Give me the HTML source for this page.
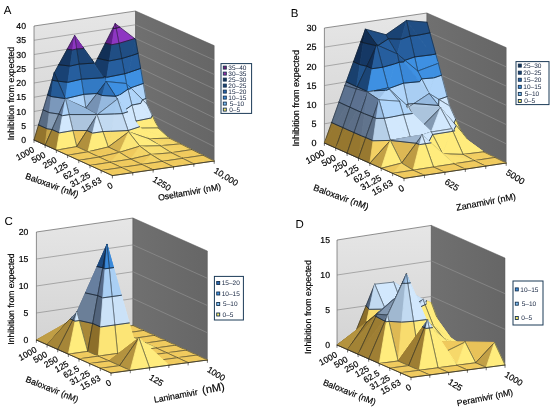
<!DOCTYPE html>
<html lang="en"><head><meta charset="utf-8"><title>Baloxavir combination synergy surfaces</title>
<style>html,body{margin:0;padding:0;background:#fff}body{width:550px;height:411px;overflow:hidden}</style>
</head><body>
<svg width="550" height="411" viewBox="0 0 550 411" font-family='"Liberation Sans", sans-serif' fill="#000" stroke="#000" stroke-width="0" style="display:block;text-rendering:geometricPrecision">
<rect width="550" height="411" fill="#fff"/>
<g>
<defs><linearGradient id="g0l" x1="0" y1="0" x2="0" y2="1"><stop offset="0" stop-color="#e6e6e6"/><stop offset="1" stop-color="#d4d4d4"/></linearGradient><linearGradient id="g0d" x1="0" y1="0" x2="1" y2="0"><stop offset="0" stop-color="#707070"/><stop offset="1" stop-color="#666666"/></linearGradient></defs>
<polygon points="34,140 112.4,175.6 214.2,161 135.6,121" fill="#8a8a8a"/>
<polygon points="34,140 135.6,121 135.6,11 34,26" fill="url(#g0l)" stroke="#4a4a4a" stroke-width="0.6"/>
<polygon points="135.6,121 214.2,161 214.2,45.6 135.6,11" fill="url(#g0d)" stroke="#5a5a5a" stroke-width="0.5"/>
<path d="M34 125.75L135.6 107.25M34 111.5L135.6 93.5M34 97.25L135.6 79.75M34 83L135.6 66M34 68.75L135.6 52.25M34 54.5L135.6 38.5M34 40.25L135.6 24.75" stroke="#787878" stroke-width="0.55" fill="none"/>
<path d="M135.6 107.25L214.2 146.57M135.6 93.5L214.2 132.15M135.6 79.75L214.2 117.72M135.6 66L214.2 103.3M135.6 52.25L214.2 88.88M135.6 38.5L214.2 74.45M135.6 24.75L214.2 60.02" stroke="#9a9a9a" stroke-width="0.55" fill="none"/>
<polygon points="124.68,73.76 126.5,83.53 128.76,72.49" fill="#3e90e2" stroke="#3e90e2" stroke-width="0.8" stroke-linejoin="round"/>
<polygon points="121.83,58.53 124.68,73.76 128.76,72.49 132.29,55.34" fill="#265e9e" stroke="#265e9e" stroke-width="0.8" stroke-linejoin="round"/>
<polygon points="118.98,43.35 121.83,58.53 132.29,55.34 135.6,39.33 134.7,38.64" fill="#204e84" stroke="#204e84" stroke-width="0.8" stroke-linejoin="round"/>
<polygon points="116.13,28.22 118.98,43.35 134.7,38.64 119.76,27.17" fill="#8e36c2" stroke="#8e36c2" stroke-width="0.8" stroke-linejoin="round"/>
<polygon points="115.28,23.7 116.13,28.22 119.76,27.17" fill="#862aae" stroke="#862aae" stroke-width="0.8" stroke-linejoin="round"/>
<path d="M128.76 72.49L124.68 73.76M124.68 73.76L128.76 72.49M132.29 55.34L121.83 58.53M121.83 58.53L132.29 55.34M134.7 38.64L118.98 43.35M118.98 43.35L134.7 38.64M119.76 27.17L116.13 28.22M116.13 28.22L119.76 27.17M115.28 23.7L126.5 83.53M135.6 39.33L115.28 23.7" fill="none" stroke="#101820" stroke-opacity="0.9" stroke-width="0.55" stroke-linecap="round"/>
<polygon points="142.57,99.75 146.83,104.01 145.89,98.56" fill="#d2e8fd" stroke="#d2e8fd" stroke-width="0.8" stroke-linejoin="round"/>
<polygon points="130.76,87.84 142.57,99.75 145.89,98.56 143.28,83.46" fill="#b0d5fa" stroke="#b0d5fa" stroke-width="0.8" stroke-linejoin="round"/>
<polygon points="126.5,83.53 130.76,87.84 143.28,83.46 140.67,68.4 128.76,72.49" fill="#3e90e2" stroke="#3e90e2" stroke-width="0.8" stroke-linejoin="round"/>
<polygon points="140.67,68.4 138.05,53.39 132.29,55.34 128.76,72.49" fill="#265e9e" stroke="#265e9e" stroke-width="0.8" stroke-linejoin="round"/>
<polygon points="138.05,53.39 135.6,39.33 132.29,55.34" fill="#204e84" stroke="#204e84" stroke-width="0.8" stroke-linejoin="round"/>
<path d="M145.89 98.56L142.57 99.75M142.57 99.75L145.89 98.56M143.28 83.46L130.76 87.84M130.76 87.84L143.28 83.46M140.67 68.4L128.76 72.49M138.05 53.39L132.29 55.34M128.76 72.49L140.67 68.4M132.29 55.34L138.05 53.39M126.5 83.53L146.83 104.01M146.83 104.01L135.6 39.33" fill="none" stroke="#101820" stroke-opacity="0.9" stroke-width="0.55" stroke-linecap="round"/>
<polygon points="102.94,76.41 106.18,81.53 106.84,77.27" fill="#235791" stroke="#235791" stroke-width="0.8" stroke-linejoin="round"/>
<polygon points="94.96,63.87 102.94,76.41 106.84,77.27 109.4,60.93 97.71,58.4" fill="#163b69" stroke="#163b69" stroke-width="0.8" stroke-linejoin="round"/>
<polygon points="109.4,60.93 111.96,44.68 105.35,43.26 97.71,58.4" fill="#123057" stroke="#123057" stroke-width="0.8" stroke-linejoin="round"/>
<polygon points="111.96,44.68 114.51,28.52 112.99,28.2 105.35,43.26" fill="#611f8b" stroke="#611f8b" stroke-width="0.8" stroke-linejoin="round"/>
<polygon points="114.51,28.52 115.28,23.7 112.99,28.2" fill="#571879" stroke="#571879" stroke-width="0.8" stroke-linejoin="round"/>
<path d="M106.84 77.27L102.94 76.41M102.94 76.41L106.84 77.27M109.4 60.93L97.71 58.4M111.96 44.68L105.35 43.26M97.71 58.4L109.4 60.93M114.51 28.52L112.99 28.2M105.35 43.26L111.96 44.68M112.99 28.2L114.51 28.52M94.96 63.87L106.18 81.53M115.28 23.7L94.96 63.87" fill="none" stroke="#101820" stroke-opacity="0.9" stroke-width="0.55" stroke-linecap="round"/>
<polygon points="106.18,81.53 126.5,83.53 124.68,73.76 106.84,77.27" fill="#3e90e2" stroke="#3e90e2" stroke-width="0.8" stroke-linejoin="round"/>
<polygon points="124.68,73.76 121.83,58.53 109.4,60.93 106.84,77.27" fill="#265e9e" stroke="#265e9e" stroke-width="0.8" stroke-linejoin="round"/>
<polygon points="121.83,58.53 118.98,43.35 111.96,44.68 109.4,60.93" fill="#204e84" stroke="#204e84" stroke-width="0.8" stroke-linejoin="round"/>
<polygon points="118.98,43.35 116.13,28.22 114.51,28.52 111.96,44.68" fill="#8e36c2" stroke="#8e36c2" stroke-width="0.8" stroke-linejoin="round"/>
<polygon points="116.13,28.22 115.28,23.7 114.51,28.52" fill="#862aae" stroke="#862aae" stroke-width="0.8" stroke-linejoin="round"/>
<path d="M124.68 73.76L106.84 77.27M121.83 58.53L109.4 60.93M106.84 77.27L124.68 73.76M118.98 43.35L111.96 44.68M109.4 60.93L121.83 58.53M116.13 28.22L114.51 28.52M111.96 44.68L118.98 43.35M114.51 28.52L116.13 28.22M106.18 81.53L126.5 83.53M126.5 83.53L115.28 23.7" fill="none" stroke="#101820" stroke-opacity="0.9" stroke-width="0.55" stroke-linecap="round"/>
<polygon points="103.57,77.73 106.18,81.53 102.94,76.41" fill="#3e90e2" stroke="#3e90e2" stroke-width="0.8" stroke-linejoin="round"/>
<polygon points="93.52,63.13 103.57,77.73 102.94,76.41 94.96,63.87 91.69,59.38" fill="#265e9e" stroke="#265e9e" stroke-width="0.8" stroke-linejoin="round"/>
<polygon points="83.48,48.55 93.52,63.13 91.69,59.38 82.62,46.84" fill="#204e84" stroke="#204e84" stroke-width="0.8" stroke-linejoin="round"/>
<polygon points="74.64,35.74 83.48,48.55 82.62,46.84" fill="#8e36c2" stroke="#8e36c2" stroke-width="0.8" stroke-linejoin="round"/>
<path d="M102.94 76.41L103.57 77.73M103.57 77.73L102.94 76.41M91.69 59.38L93.52 63.13M93.52 63.13L91.69 59.38M82.62 46.84L83.48 48.55M83.48 48.55L82.62 46.84M106.18 81.53L94.96 63.87M94.96 63.87L74.64 35.74" fill="none" stroke="#101820" stroke-opacity="0.9" stroke-width="0.55" stroke-linecap="round"/>
<polygon points="83.74,94.35 85.85,108.03 97.01,93.45" fill="#9cc0e6" stroke="#9cc0e6" stroke-width="0.8" stroke-linejoin="round"/>
<polygon points="81.4,79.18 83.74,94.35 97.01,93.45 106.18,81.53 103.57,77.73" fill="#337ac4" stroke="#337ac4" stroke-width="0.8" stroke-linejoin="round"/>
<polygon points="79.05,64.06 81.4,79.18 103.57,77.73 93.52,63.13" fill="#20528b" stroke="#20528b" stroke-width="0.8" stroke-linejoin="round"/>
<polygon points="76.7,48.98 79.05,64.06 93.52,63.13 83.48,48.55" fill="#1b4374" stroke="#1b4374" stroke-width="0.8" stroke-linejoin="round"/>
<polygon points="74.64,35.74 76.7,48.98 83.48,48.55" fill="#7d2dae" stroke="#7d2dae" stroke-width="0.8" stroke-linejoin="round"/>
<path d="M97.01 93.45L83.74 94.35M83.74 94.35L97.01 93.45M103.57 77.73L81.4 79.18M81.4 79.18L103.57 77.73M93.52 63.13L79.05 64.06M79.05 64.06L93.52 63.13M83.48 48.55L76.7 48.98M76.7 48.98L83.48 48.55M74.64 35.74L85.85 108.03M85.85 108.03L106.18 81.53" fill="none" stroke="#101820" stroke-opacity="0.9" stroke-width="0.55" stroke-linecap="round"/>
<polygon points="65.38,98.61 65.53,98.96 65.57,98.63" fill="#82a1c5" stroke="#82a1c5" stroke-width="0.8" stroke-linejoin="round"/>
<polygon points="57.91,81.14 65.38,98.61 65.57,98.63 67.91,82.3" fill="#2862a1" stroke="#2862a1" stroke-width="0.8" stroke-linejoin="round"/>
<polygon points="54.32,72.81 57.91,81.14 67.91,82.3 70.25,66.05 58.72,64.73" fill="#194274" stroke="#194274" stroke-width="0.8" stroke-linejoin="round"/>
<polygon points="70.25,66.05 72.58,49.89 67.19,49.27 58.72,64.73" fill="#153661" stroke="#153661" stroke-width="0.8" stroke-linejoin="round"/>
<polygon points="72.58,49.89 74.64,35.74 67.19,49.27" fill="#6a2396" stroke="#6a2396" stroke-width="0.8" stroke-linejoin="round"/>
<path d="M65.57 98.63L65.38 98.61M65.38 98.61L65.57 98.63M67.91 82.3L57.91 81.14M57.91 81.14L67.91 82.3M70.25 66.05L58.72 64.73M72.58 49.89L67.19 49.27M58.72 64.73L70.25 66.05M67.19 49.27L72.58 49.89M54.32 72.81L65.53 98.96M74.64 35.74L54.32 72.81" fill="none" stroke="#101820" stroke-opacity="0.9" stroke-width="0.55" stroke-linecap="round"/>
<polygon points="65.53,98.96 85.85,108.03 83.74,94.35 65.57,98.63" fill="#b0d5fa" stroke="#b0d5fa" stroke-width="0.8" stroke-linejoin="round"/>
<polygon points="83.74,94.35 81.4,79.18 67.91,82.3 65.57,98.63" fill="#3e90e2" stroke="#3e90e2" stroke-width="0.8" stroke-linejoin="round"/>
<polygon points="81.4,79.18 79.05,64.06 70.25,66.05 67.91,82.3" fill="#265e9e" stroke="#265e9e" stroke-width="0.8" stroke-linejoin="round"/>
<polygon points="79.05,64.06 76.7,48.98 72.58,49.89 70.25,66.05" fill="#204e84" stroke="#204e84" stroke-width="0.8" stroke-linejoin="round"/>
<polygon points="76.7,48.98 74.64,35.74 72.58,49.89" fill="#8e36c2" stroke="#8e36c2" stroke-width="0.8" stroke-linejoin="round"/>
<path d="M83.74 94.35L65.57 98.63M81.4 79.18L67.91 82.3M65.57 98.63L83.74 94.35M79.05 64.06L70.25 66.05M67.91 82.3L81.4 79.18M76.7 48.98L72.58 49.89M70.25 66.05L79.05 64.06M72.58 49.89L76.7 48.98M65.53 98.96L85.85 108.03M85.85 108.03L74.64 35.74" fill="none" stroke="#101820" stroke-opacity="0.9" stroke-width="0.55" stroke-linecap="round"/>
<polygon points="34,140 45.2,145.09 47.24,128.82 38.54,124.92" fill="#93742d" stroke="#93742d" stroke-width="0.8" stroke-linejoin="round"/>
<polygon points="47.24,128.82 49.27,112.63 43.07,109.89 38.54,124.92" fill="#586b83" stroke="#586b83" stroke-width="0.8" stroke-linejoin="round"/>
<polygon points="49.27,112.63 51.31,96.52 47.61,94.91 43.07,109.89" fill="#5a6f8e" stroke="#5a6f8e" stroke-width="0.8" stroke-linejoin="round"/>
<polygon points="51.31,96.52 53.34,80.48 52.14,79.96 47.61,94.91" fill="#183e6c" stroke="#183e6c" stroke-width="0.8" stroke-linejoin="round"/>
<polygon points="53.34,80.48 54.32,72.81 52.14,79.96" fill="#0f2a50" stroke="#0f2a50" stroke-width="0.8" stroke-linejoin="round"/>
<path d="M47.24 128.82L38.54 124.92M49.27 112.63L43.07 109.89M38.54 124.92L47.24 128.82M51.31 96.52L47.61 94.91M43.07 109.89L49.27 112.63M53.34 80.48L52.14 79.96M47.61 94.91L51.31 96.52M52.14 79.96L53.34 80.48M34 140L45.2 145.09M54.32 72.81L34 140" fill="none" stroke="#101820" stroke-opacity="0.9" stroke-width="0.55" stroke-linecap="round"/>
<polygon points="45.2,145.09 52.02,129.54 47.24,128.82" fill="#c6a448" stroke="#c6a448" stroke-width="0.8" stroke-linejoin="round"/>
<polygon points="52.02,129.54 58.84,114.06 49.27,112.63 47.24,128.82" fill="#899fb8" stroke="#899fb8" stroke-width="0.8" stroke-linejoin="round"/>
<polygon points="58.84,114.06 65.53,98.96 65.38,98.61 51.31,96.52 49.27,112.63" fill="#7b98bb" stroke="#7b98bb" stroke-width="0.8" stroke-linejoin="round"/>
<polygon points="65.38,98.61 57.91,81.14 53.34,80.48 51.31,96.52" fill="#255b97" stroke="#255b97" stroke-width="0.8" stroke-linejoin="round"/>
<polygon points="57.91,81.14 54.32,72.81 53.34,80.48" fill="#173e6d" stroke="#173e6d" stroke-width="0.8" stroke-linejoin="round"/>
<path d="M52.02 129.54L47.24 128.82M58.84 114.06L49.27 112.63M47.24 128.82L52.02 129.54M65.38 98.61L51.31 96.52M49.27 112.63L58.84 114.06M57.91 81.14L53.34 80.48M51.31 96.52L65.38 98.61M53.34 80.48L57.91 81.14M45.2 145.09L65.53 98.96M65.53 98.96L54.32 72.81" fill="none" stroke="#101820" stroke-opacity="0.9" stroke-width="0.55" stroke-linecap="round"/>
<polygon points="151,118.01 158.06,127.97 152.27,115.59" fill="#ffec7d" stroke="#ffec7d" stroke-width="0.8" stroke-linejoin="round"/>
<polygon points="140.62,103.38 151,118.01 152.27,115.59 146.83,104.01 142.57,99.75" fill="#d2e8fd" stroke="#d2e8fd" stroke-width="0.8" stroke-linejoin="round"/>
<polygon points="130.24,88.78 140.62,103.38 142.57,99.75 130.76,87.84" fill="#b0d5fa" stroke="#b0d5fa" stroke-width="0.8" stroke-linejoin="round"/>
<polygon points="126.5,83.53 130.24,88.78 130.76,87.84" fill="#3e90e2" stroke="#3e90e2" stroke-width="0.8" stroke-linejoin="round"/>
<path d="M152.27 115.59L151 118.01M151 118.01L152.27 115.59M142.57 99.75L140.62 103.38M140.62 103.38L142.57 99.75M130.76 87.84L130.24 88.78M130.24 88.78L130.76 87.84M158.06 127.97L146.83 104.01M146.83 104.01L126.5 83.53" fill="none" stroke="#101820" stroke-opacity="0.9" stroke-width="0.55" stroke-linecap="round"/>
<polygon points="135.96,121.07 137.73,128.11 158.06,127.97 151,118.01" fill="#ffec7d" stroke="#ffec7d" stroke-width="0.8" stroke-linejoin="round"/>
<polygon points="131.95,105.12 135.96,121.07 151,118.01 140.62,103.38" fill="#d2e8fd" stroke="#d2e8fd" stroke-width="0.8" stroke-linejoin="round"/>
<polygon points="127.95,89.23 131.95,105.12 140.62,103.38 130.24,88.78" fill="#b0d5fa" stroke="#b0d5fa" stroke-width="0.8" stroke-linejoin="round"/>
<polygon points="126.5,83.53 127.95,89.23 130.24,88.78" fill="#3e90e2" stroke="#3e90e2" stroke-width="0.8" stroke-linejoin="round"/>
<path d="M151 118.01L135.96 121.07M135.96 121.07L151 118.01M140.62 103.38L131.95 105.12M131.95 105.12L140.62 103.38M130.24 88.78L127.95 89.23M127.95 89.23L130.24 88.78M126.5 83.53L137.73 128.11M137.73 128.11L158.06 127.97" fill="none" stroke="#101820" stroke-opacity="0.9" stroke-width="0.55" stroke-linecap="round"/>
<polygon points="115.61,96.27 117.39,99.08 119.95,94.73" fill="#b0d5fa" stroke="#b0d5fa" stroke-width="0.8" stroke-linejoin="round"/>
<polygon points="106.18,81.53 115.61,96.27 119.95,94.73 126.5,83.53" fill="#3e90e2" stroke="#3e90e2" stroke-width="0.8" stroke-linejoin="round"/>
<path d="M119.95 94.73L115.61 96.27M115.61 96.27L119.95 94.73M106.18 81.53L117.39 99.08M126.5 83.53L106.18 81.53" fill="none" stroke="#101820" stroke-opacity="0.9" stroke-width="0.55" stroke-linecap="round"/>
<polygon points="133.84,122.59 137.73,128.11 135.96,121.07" fill="#ffec7d" stroke="#ffec7d" stroke-width="0.8" stroke-linejoin="round"/>
<polygon points="125,109.99 133.84,122.59 135.96,121.07 131.95,105.12" fill="#d2e8fd" stroke="#d2e8fd" stroke-width="0.8" stroke-linejoin="round"/>
<polygon points="117.39,99.08 125,109.99 131.95,105.12 127.95,89.23 119.95,94.73" fill="#b0d5fa" stroke="#b0d5fa" stroke-width="0.8" stroke-linejoin="round"/>
<polygon points="127.95,89.23 126.5,83.53 119.95,94.73" fill="#3e90e2" stroke="#3e90e2" stroke-width="0.8" stroke-linejoin="round"/>
<path d="M135.96 121.07L133.84 122.59M133.84 122.59L135.96 121.07M131.95 105.12L125 109.99M125 109.99L131.95 105.12M127.95 89.23L119.95 94.73M119.95 94.73L127.95 89.23M117.39 99.08L137.73 128.11M137.73 128.11L126.5 83.53" fill="none" stroke="#101820" stroke-opacity="0.9" stroke-width="0.55" stroke-linecap="round"/>
<polygon points="95.19,113.73 97.06,114.87 97.17,114.49" fill="#8197af" stroke="#8197af" stroke-width="0.8" stroke-linejoin="round"/>
<polygon points="85.85,108.03 95.19,113.73 97.17,114.49 102.35,95.5 97.01,93.45" fill="#7692b4" stroke="#7692b4" stroke-width="0.8" stroke-linejoin="round"/>
<polygon points="102.35,95.5 106.18,81.53 97.01,93.45" fill="#235791" stroke="#235791" stroke-width="0.8" stroke-linejoin="round"/>
<path d="M97.17 114.49L95.19 113.73M95.19 113.73L97.17 114.49M102.35 95.5L97.01 93.45M97.01 93.45L102.35 95.5M85.85 108.03L97.06 114.87M106.18 81.53L85.85 108.03" fill="none" stroke="#101820" stroke-opacity="0.9" stroke-width="0.55" stroke-linecap="round"/>
<polygon points="97.06,114.87 97.52,114.51 97.17,114.49" fill="#b1cae3" stroke="#b1cae3" stroke-width="0.8" stroke-linejoin="round"/>
<polygon points="97.52,114.51 117.39,99.08 115.61,96.27 102.35,95.5 97.17,114.49" fill="#95b9df" stroke="#95b9df" stroke-width="0.8" stroke-linejoin="round"/>
<polygon points="115.61,96.27 106.18,81.53 102.35,95.5" fill="#3073bb" stroke="#3073bb" stroke-width="0.8" stroke-linejoin="round"/>
<path d="M97.52 114.51L97.17 114.49M115.61 96.27L102.35 95.5M97.17 114.49L97.52 114.51M102.35 95.5L115.61 96.27M97.06 114.87L117.39 99.08M117.39 99.08L106.18 81.53" fill="none" stroke="#101820" stroke-opacity="0.9" stroke-width="0.55" stroke-linecap="round"/>
<polygon points="96.43,114.55 97.06,114.87 95.19,113.73" fill="#d2e8fd" stroke="#d2e8fd" stroke-width="0.8" stroke-linejoin="round"/>
<polygon points="65.53,98.96 96.43,114.55 95.19,113.73 85.85,108.03" fill="#b0d5fa" stroke="#b0d5fa" stroke-width="0.8" stroke-linejoin="round"/>
<path d="M95.19 113.73L96.43 114.55M96.43 114.55L95.19 113.73M97.06 114.87L85.85 108.03M85.85 108.03L65.53 98.96" fill="none" stroke="#101820" stroke-opacity="0.9" stroke-width="0.55" stroke-linecap="round"/>
<polygon points="72.97,130.56 76.73,146.62 87,130.54" fill="#ecc65b" stroke="#ecc65b" stroke-width="0.8" stroke-linejoin="round"/>
<polygon points="69.21,114.57 72.97,130.56 87,130.54 97.06,114.87 96.43,114.55" fill="#adc5de" stroke="#adc5de" stroke-width="0.8" stroke-linejoin="round"/>
<polygon points="65.53,98.96 69.21,114.57 96.43,114.55" fill="#93b6db" stroke="#93b6db" stroke-width="0.8" stroke-linejoin="round"/>
<path d="M87 130.54L72.97 130.56M72.97 130.56L87 130.54M96.43 114.55L69.21 114.57M69.21 114.57L96.43 114.55M65.53 98.96L76.73 146.62M76.73 146.62L97.06 114.87" fill="none" stroke="#101820" stroke-opacity="0.9" stroke-width="0.55" stroke-linecap="round"/>
<polygon points="45.2,145.09 56.4,150.17 59.46,132.88 52.02,129.54" fill="#a08134" stroke="#a08134" stroke-width="0.8" stroke-linejoin="round"/>
<polygon points="59.46,132.88 62.53,115.7 58.84,114.06 52.02,129.54" fill="#657991" stroke="#657991" stroke-width="0.8" stroke-linejoin="round"/>
<polygon points="62.53,115.7 65.53,98.96 58.84,114.06" fill="#637a9a" stroke="#637a9a" stroke-width="0.8" stroke-linejoin="round"/>
<path d="M59.46 132.88L52.02 129.54M62.53 115.7L58.84 114.06M52.02 129.54L59.46 132.88M58.84 114.06L62.53 115.7M45.2 145.09L56.4 150.17M65.53 98.96L45.2 145.09" fill="none" stroke="#101820" stroke-opacity="0.9" stroke-width="0.55" stroke-linecap="round"/>
<polygon points="56.4,150.17 76.73,146.62 72.97,130.56 59.46,132.88" fill="#ffec7d" stroke="#ffec7d" stroke-width="0.8" stroke-linejoin="round"/>
<polygon points="72.97,130.56 69.21,114.57 62.53,115.7 59.46,132.88" fill="#d2e8fd" stroke="#d2e8fd" stroke-width="0.8" stroke-linejoin="round"/>
<polygon points="69.21,114.57 65.53,98.96 62.53,115.7" fill="#b0d5fa" stroke="#b0d5fa" stroke-width="0.8" stroke-linejoin="round"/>
<path d="M72.97 130.56L59.46 132.88M69.21 114.57L62.53 115.7M59.46 132.88L72.97 130.56M62.53 115.7L69.21 114.57M56.4 150.17L76.73 146.62M76.73 146.62L65.53 98.96" fill="none" stroke="#101820" stroke-opacity="0.9" stroke-width="0.55" stroke-linecap="round"/>
<polygon points="137.73,128.11 169.29,138.14 158.06,127.97" fill="#ffec7d" stroke="#ffec7d" stroke-width="0.8" stroke-linejoin="round"/>
<path d="M169.29 138.14L158.06 127.97M158.06 127.97L137.73 128.11" fill="none" stroke="#101820" stroke-opacity="0.9" stroke-width="0.55" stroke-linecap="round"/>
<polygon points="137.73,128.11 148.95,138.74 169.29,138.14" fill="#ffec7d" stroke="#ffec7d" stroke-width="0.8" stroke-linejoin="round"/>
<path d="M137.73 128.11L148.95 138.74M148.95 138.74L169.29 138.14" fill="none" stroke="#101820" stroke-opacity="0.9" stroke-width="0.55" stroke-linecap="round"/>
<polygon points="139.46,126.79 148.95,138.74 137.73,128.11 133.84,122.59" fill="#ffec7d" stroke="#ffec7d" stroke-width="0.8" stroke-linejoin="round"/>
<polygon points="127.59,111.87 139.46,126.79 133.84,122.59 125,109.99" fill="#d2e8fd" stroke="#d2e8fd" stroke-width="0.8" stroke-linejoin="round"/>
<polygon points="117.39,99.08 127.59,111.87 125,109.99" fill="#b0d5fa" stroke="#b0d5fa" stroke-width="0.8" stroke-linejoin="round"/>
<path d="M133.84 122.59L139.46 126.79M139.46 126.79L133.84 122.59M125 109.99L127.59 111.87M127.59 111.87L125 109.99M148.95 138.74L137.73 128.11M137.73 128.11L117.39 99.08" fill="none" stroke="#101820" stroke-opacity="0.9" stroke-width="0.55" stroke-linecap="round"/>
<polygon points="128.15,130.53 128.61,131.89 148.95,138.74 139.46,126.79" fill="#ffec7d" stroke="#ffec7d" stroke-width="0.8" stroke-linejoin="round"/>
<polygon points="122.37,113.58 128.15,130.53 139.46,126.79 127.59,111.87" fill="#d2e8fd" stroke="#d2e8fd" stroke-width="0.8" stroke-linejoin="round"/>
<polygon points="117.39,99.08 122.37,113.58 127.59,111.87" fill="#b0d5fa" stroke="#b0d5fa" stroke-width="0.8" stroke-linejoin="round"/>
<path d="M139.46 126.79L128.15 130.53M128.15 130.53L139.46 126.79M127.59 111.87L122.37 113.58M122.37 113.58L127.59 111.87M117.39 99.08L128.61 131.89M128.61 131.89L148.95 138.74" fill="none" stroke="#101820" stroke-opacity="0.9" stroke-width="0.55" stroke-linecap="round"/>
<polygon points="102.91,131.56 108.27,146.98 111.25,131.27" fill="#f8dc6e" stroke="#f8dc6e" stroke-width="0.8" stroke-linejoin="round"/>
<polygon points="97.06,114.87 102.91,131.56 111.25,131.27 114.55,113.91 97.52,114.51" fill="#c2daf1" stroke="#c2daf1" stroke-width="0.8" stroke-linejoin="round"/>
<polygon points="114.55,113.91 117.39,99.08 97.52,114.51" fill="#a3c8ed" stroke="#a3c8ed" stroke-width="0.8" stroke-linejoin="round"/>
<path d="M111.25 131.27L102.91 131.56M102.91 131.56L111.25 131.27M114.55 113.91L97.52 114.51M97.52 114.51L114.55 113.91M97.06 114.87L108.27 146.98M117.39 99.08L97.06 114.87" fill="none" stroke="#101820" stroke-opacity="0.9" stroke-width="0.55" stroke-linecap="round"/>
<polygon points="108.27,146.98 128.61,131.89 128.15,130.53 111.25,131.27" fill="#f9de70" stroke="#f9de70" stroke-width="0.8" stroke-linejoin="round"/>
<polygon points="128.15,130.53 122.37,113.58 114.55,113.91 111.25,131.27" fill="#c5dcf3" stroke="#c5dcf3" stroke-width="0.8" stroke-linejoin="round"/>
<polygon points="122.37,113.58 117.39,99.08 114.55,113.91" fill="#a5caef" stroke="#a5caef" stroke-width="0.8" stroke-linejoin="round"/>
<path d="M128.15 130.53L111.25 131.27M122.37 113.58L114.55 113.91M111.25 131.27L128.15 130.53M114.55 113.91L122.37 113.58M108.27 146.98L128.61 131.89M128.61 131.89L117.39 99.08" fill="none" stroke="#101820" stroke-opacity="0.9" stroke-width="0.55" stroke-linecap="round"/>
<polygon points="76.73,146.62 87.94,151.83 92.55,133.1 87,130.54" fill="#b1903d" stroke="#b1903d" stroke-width="0.8" stroke-linejoin="round"/>
<polygon points="92.55,133.1 97.06,114.87 87,130.54" fill="#758aa2" stroke="#758aa2" stroke-width="0.8" stroke-linejoin="round"/>
<path d="M92.55 133.1L87 130.54M87 130.54L92.55 133.1M76.73 146.62L87.94 151.83M97.06 114.87L76.73 146.62" fill="none" stroke="#101820" stroke-opacity="0.9" stroke-width="0.55" stroke-linecap="round"/>
<polygon points="87.94,151.83 108.27,146.98 102.91,131.56 92.55,133.1" fill="#ffec7d" stroke="#ffec7d" stroke-width="0.8" stroke-linejoin="round"/>
<polygon points="102.91,131.56 97.06,114.87 92.55,133.1" fill="#d2e8fd" stroke="#d2e8fd" stroke-width="0.8" stroke-linejoin="round"/>
<path d="M102.91 131.56L92.55 133.1M92.55 133.1L102.91 131.56M87.94 151.83L108.27 146.98M108.27 146.98L97.06 114.87" fill="none" stroke="#101820" stroke-opacity="0.9" stroke-width="0.55" stroke-linecap="round"/>
<polygon points="56.4,150.17 87.94,151.83 76.73,146.62" fill="#f1cb5e" stroke="#f1cb5e" stroke-width="0.8" stroke-linejoin="round"/>
<path d="M87.94 151.83L76.73 146.62M76.73 146.62L56.4 150.17" fill="none" stroke="#101820" stroke-opacity="0.9" stroke-width="0.55" stroke-linecap="round"/>
<polygon points="56.4,150.17 67.6,155.26 87.94,151.83" fill="#f1cb5e" stroke="#f1cb5e" stroke-width="0.8" stroke-linejoin="round"/>
<path d="M56.4 150.17L67.6 155.26M67.6 155.26L87.94 151.83" fill="none" stroke="#101820" stroke-opacity="0.9" stroke-width="0.55" stroke-linecap="round"/>
<polygon points="148.95,138.74 180.51,143.86 169.29,138.14" fill="#f5d567" stroke="#f5d567" stroke-width="0.8" stroke-linejoin="round"/>
<path d="M180.51 143.86L169.29 138.14M169.29 138.14L148.95 138.74" fill="none" stroke="#101820" stroke-opacity="0.9" stroke-width="0.55" stroke-linecap="round"/>
<polygon points="148.95,138.74 160.17,145.73 180.51,143.86" fill="#f6d86a" stroke="#f6d86a" stroke-width="0.8" stroke-linejoin="round"/>
<path d="M148.95 138.74L160.17 145.73M160.17 145.73L180.51 143.86" fill="none" stroke="#101820" stroke-opacity="0.9" stroke-width="0.55" stroke-linecap="round"/>
<polygon points="128.61,131.89 160.17,145.73 148.95,138.74" fill="#ffec7d" stroke="#ffec7d" stroke-width="0.8" stroke-linejoin="round"/>
<path d="M160.17 145.73L148.95 138.74M148.95 138.74L128.61 131.89" fill="none" stroke="#101820" stroke-opacity="0.9" stroke-width="0.55" stroke-linecap="round"/>
<polygon points="128.61,131.89 139.83,146.15 160.17,145.73" fill="#ffec7d" stroke="#ffec7d" stroke-width="0.8" stroke-linejoin="round"/>
<path d="M128.61 131.89L139.83 146.15M139.83 146.15L160.17 145.73" fill="none" stroke="#101820" stroke-opacity="0.9" stroke-width="0.55" stroke-linecap="round"/>
<polygon points="108.27,146.98 119.49,152.31 128.61,131.89" fill="#d3b04f" stroke="#d3b04f" stroke-width="0.8" stroke-linejoin="round"/>
<path d="M108.27 146.98L119.49 152.31M128.61 131.89L108.27 146.98" fill="none" stroke="#101820" stroke-opacity="0.9" stroke-width="0.55" stroke-linecap="round"/>
<polygon points="119.49,152.31 139.83,146.15 128.61,131.89" fill="#fce677" stroke="#fce677" stroke-width="0.8" stroke-linejoin="round"/>
<path d="M119.49 152.31L139.83 146.15M139.83 146.15L128.61 131.89" fill="none" stroke="#101820" stroke-opacity="0.9" stroke-width="0.55" stroke-linecap="round"/>
<polygon points="87.94,151.83 119.49,152.31 108.27,146.98" fill="#eec85c" stroke="#eec85c" stroke-width="0.8" stroke-linejoin="round"/>
<path d="M119.49 152.31L108.27 146.98M108.27 146.98L87.94 151.83" fill="none" stroke="#101820" stroke-opacity="0.9" stroke-width="0.55" stroke-linecap="round"/>
<polygon points="87.94,151.83 99.14,157.05 119.49,152.31" fill="#eec85c" stroke="#eec85c" stroke-width="0.8" stroke-linejoin="round"/>
<path d="M87.94 151.83L99.14 157.05M99.14 157.05L119.49 152.31" fill="none" stroke="#101820" stroke-opacity="0.9" stroke-width="0.55" stroke-linecap="round"/>
<polygon points="67.6,155.26 99.14,157.05 87.94,151.83" fill="#f1cb5e" stroke="#f1cb5e" stroke-width="0.8" stroke-linejoin="round"/>
<path d="M99.14 157.05L87.94 151.83M87.94 151.83L67.6 155.26" fill="none" stroke="#101820" stroke-opacity="0.9" stroke-width="0.55" stroke-linecap="round"/>
<polygon points="67.6,155.26 78.8,160.34 99.14,157.05" fill="#f1cb5e" stroke="#f1cb5e" stroke-width="0.8" stroke-linejoin="round"/>
<path d="M67.6 155.26L78.8 160.34M78.8 160.34L99.14 157.05" fill="none" stroke="#101820" stroke-opacity="0.9" stroke-width="0.55" stroke-linecap="round"/>
<polygon points="160.17,145.73 191.74,149.57 180.51,143.86" fill="#f3d063" stroke="#f3d063" stroke-width="0.8" stroke-linejoin="round"/>
<path d="M191.74 149.57L180.51 143.86M180.51 143.86L160.17 145.73" fill="none" stroke="#101820" stroke-opacity="0.9" stroke-width="0.55" stroke-linecap="round"/>
<polygon points="160.17,145.73 171.39,152.74 191.74,149.57" fill="#f4d365" stroke="#f4d365" stroke-width="0.8" stroke-linejoin="round"/>
<path d="M160.17 145.73L171.39 152.74M171.39 152.74L191.74 149.57" fill="none" stroke="#101820" stroke-opacity="0.9" stroke-width="0.55" stroke-linecap="round"/>
<polygon points="139.83,146.15 171.39,152.74 160.17,145.73" fill="#f8dd6e" stroke="#f8dd6e" stroke-width="0.8" stroke-linejoin="round"/>
<path d="M171.39 152.74L160.17 145.73M160.17 145.73L139.83 146.15" fill="none" stroke="#101820" stroke-opacity="0.9" stroke-width="0.55" stroke-linecap="round"/>
<polygon points="139.83,146.15 151.05,154.47 171.39,152.74" fill="#f9df71" stroke="#f9df71" stroke-width="0.8" stroke-linejoin="round"/>
<path d="M139.83 146.15L151.05 154.47M151.05 154.47L171.39 152.74" fill="none" stroke="#101820" stroke-opacity="0.9" stroke-width="0.55" stroke-linecap="round"/>
<polygon points="119.49,152.31 130.7,159.09 139.83,146.15" fill="#efc95d" stroke="#efc95d" stroke-width="0.8" stroke-linejoin="round"/>
<path d="M119.49 152.31L130.7 159.09M139.83 146.15L119.49 152.31" fill="none" stroke="#101820" stroke-opacity="0.9" stroke-width="0.55" stroke-linecap="round"/>
<polygon points="130.7,159.09 151.05,154.47 139.83,146.15" fill="#f5d567" stroke="#f5d567" stroke-width="0.8" stroke-linejoin="round"/>
<path d="M130.7 159.09L151.05 154.47M151.05 154.47L139.83 146.15" fill="none" stroke="#101820" stroke-opacity="0.9" stroke-width="0.55" stroke-linecap="round"/>
<polygon points="99.14,157.05 110.35,162.26 119.49,152.31" fill="#eec85c" stroke="#eec85c" stroke-width="0.8" stroke-linejoin="round"/>
<path d="M99.14 157.05L110.35 162.26M119.49 152.31L99.14 157.05" fill="none" stroke="#101820" stroke-opacity="0.9" stroke-width="0.55" stroke-linecap="round"/>
<polygon points="110.35,162.26 130.7,159.09 119.49,152.31" fill="#f4d365" stroke="#f4d365" stroke-width="0.8" stroke-linejoin="round"/>
<path d="M110.35 162.26L130.7 159.09M130.7 159.09L119.49 152.31" fill="none" stroke="#101820" stroke-opacity="0.9" stroke-width="0.55" stroke-linecap="round"/>
<polygon points="78.8,160.34 110.35,162.26 99.14,157.05" fill="#f1cb5e" stroke="#f1cb5e" stroke-width="0.8" stroke-linejoin="round"/>
<path d="M110.35 162.26L99.14 157.05M99.14 157.05L78.8 160.34" fill="none" stroke="#101820" stroke-opacity="0.9" stroke-width="0.55" stroke-linecap="round"/>
<polygon points="78.8,160.34 90,165.43 110.35,162.26" fill="#f1cb5e" stroke="#f1cb5e" stroke-width="0.8" stroke-linejoin="round"/>
<path d="M78.8 160.34L90 165.43M90 165.43L110.35 162.26" fill="none" stroke="#101820" stroke-opacity="0.9" stroke-width="0.55" stroke-linecap="round"/>
<polygon points="171.39,152.74 202.97,155.29 191.74,149.57" fill="#f1cb5e" stroke="#f1cb5e" stroke-width="0.8" stroke-linejoin="round"/>
<path d="M202.97 155.29L191.74 149.57M191.74 149.57L171.39 152.74" fill="none" stroke="#101820" stroke-opacity="0.9" stroke-width="0.55" stroke-linecap="round"/>
<polygon points="171.39,152.74 182.62,158.33 202.97,155.29" fill="#f1cb5e" stroke="#f1cb5e" stroke-width="0.8" stroke-linejoin="round"/>
<path d="M171.39 152.74L182.62 158.33M182.62 158.33L202.97 155.29" fill="none" stroke="#101820" stroke-opacity="0.9" stroke-width="0.55" stroke-linecap="round"/>
<polygon points="151.05,154.47 182.62,158.33 171.39,152.74" fill="#f3d063" stroke="#f3d063" stroke-width="0.8" stroke-linejoin="round"/>
<path d="M182.62 158.33L171.39 152.74M171.39 152.74L151.05 154.47" fill="none" stroke="#101820" stroke-opacity="0.9" stroke-width="0.55" stroke-linecap="round"/>
<polygon points="151.05,154.47 162.26,161.38 182.62,158.33" fill="#f4d365" stroke="#f4d365" stroke-width="0.8" stroke-linejoin="round"/>
<path d="M151.05 154.47L162.26 161.38M162.26 161.38L182.62 158.33" fill="none" stroke="#101820" stroke-opacity="0.9" stroke-width="0.55" stroke-linecap="round"/>
<polygon points="130.7,159.09 141.91,164.42 151.05,154.47" fill="#eec85c" stroke="#eec85c" stroke-width="0.8" stroke-linejoin="round"/>
<path d="M130.7 159.09L141.91 164.42M151.05 154.47L130.7 159.09" fill="none" stroke="#101820" stroke-opacity="0.9" stroke-width="0.55" stroke-linecap="round"/>
<polygon points="141.91,164.42 162.26,161.38 151.05,154.47" fill="#f4d365" stroke="#f4d365" stroke-width="0.8" stroke-linejoin="round"/>
<path d="M141.91 164.42L162.26 161.38M162.26 161.38L151.05 154.47" fill="none" stroke="#101820" stroke-opacity="0.9" stroke-width="0.55" stroke-linecap="round"/>
<polygon points="110.35,162.26 141.91,164.42 130.7,159.09" fill="#f1cb5e" stroke="#f1cb5e" stroke-width="0.8" stroke-linejoin="round"/>
<path d="M141.91 164.42L130.7 159.09M130.7 159.09L110.35 162.26" fill="none" stroke="#101820" stroke-opacity="0.9" stroke-width="0.55" stroke-linecap="round"/>
<polygon points="110.35,162.26 121.55,167.47 141.91,164.42" fill="#f1cb5e" stroke="#f1cb5e" stroke-width="0.8" stroke-linejoin="round"/>
<path d="M110.35 162.26L121.55 167.47M121.55 167.47L141.91 164.42" fill="none" stroke="#101820" stroke-opacity="0.9" stroke-width="0.55" stroke-linecap="round"/>
<polygon points="90,165.43 121.55,167.47 110.35,162.26" fill="#f1cb5e" stroke="#f1cb5e" stroke-width="0.8" stroke-linejoin="round"/>
<path d="M121.55 167.47L110.35 162.26M110.35 162.26L90 165.43" fill="none" stroke="#101820" stroke-opacity="0.9" stroke-width="0.55" stroke-linecap="round"/>
<polygon points="90,165.43 101.2,170.51 121.55,167.47" fill="#f1cb5e" stroke="#f1cb5e" stroke-width="0.8" stroke-linejoin="round"/>
<path d="M90 165.43L101.2 170.51M101.2 170.51L121.55 167.47" fill="none" stroke="#101820" stroke-opacity="0.9" stroke-width="0.55" stroke-linecap="round"/>
<polygon points="182.62,158.33 214.2,161 202.97,155.29" fill="#f1cb5e" stroke="#f1cb5e" stroke-width="0.8" stroke-linejoin="round"/>
<path d="M214.2 161L202.97 155.29M202.97 155.29L182.62 158.33" fill="none" stroke="#101820" stroke-opacity="0.9" stroke-width="0.55" stroke-linecap="round"/>
<polygon points="182.62,158.33 193.84,163.92 214.2,161" fill="#f1cb5e" stroke="#f1cb5e" stroke-width="0.8" stroke-linejoin="round"/>
<path d="M182.62 158.33L193.84 163.92M193.84 163.92L214.2 161" fill="none" stroke="#101820" stroke-opacity="0.9" stroke-width="0.55" stroke-linecap="round"/>
<polygon points="162.26,161.38 193.84,163.92 182.62,158.33" fill="#f1cb5e" stroke="#f1cb5e" stroke-width="0.8" stroke-linejoin="round"/>
<path d="M193.84 163.92L182.62 158.33M182.62 158.33L162.26 161.38" fill="none" stroke="#101820" stroke-opacity="0.9" stroke-width="0.55" stroke-linecap="round"/>
<polygon points="162.26,161.38 173.48,166.84 193.84,163.92" fill="#f1cb5e" stroke="#f1cb5e" stroke-width="0.8" stroke-linejoin="round"/>
<path d="M162.26 161.38L173.48 166.84M173.48 166.84L193.84 163.92" fill="none" stroke="#101820" stroke-opacity="0.9" stroke-width="0.55" stroke-linecap="round"/>
<polygon points="141.91,164.42 173.48,166.84 162.26,161.38" fill="#f1cb5e" stroke="#f1cb5e" stroke-width="0.8" stroke-linejoin="round"/>
<path d="M173.48 166.84L162.26 161.38M162.26 161.38L141.91 164.42" fill="none" stroke="#101820" stroke-opacity="0.9" stroke-width="0.55" stroke-linecap="round"/>
<polygon points="141.91,164.42 153.12,169.76 173.48,166.84" fill="#f1cb5e" stroke="#f1cb5e" stroke-width="0.8" stroke-linejoin="round"/>
<path d="M141.91 164.42L153.12 169.76M153.12 169.76L173.48 166.84" fill="none" stroke="#101820" stroke-opacity="0.9" stroke-width="0.55" stroke-linecap="round"/>
<polygon points="121.55,167.47 153.12,169.76 141.91,164.42" fill="#f1cb5e" stroke="#f1cb5e" stroke-width="0.8" stroke-linejoin="round"/>
<path d="M153.12 169.76L141.91 164.42M141.91 164.42L121.55 167.47" fill="none" stroke="#101820" stroke-opacity="0.9" stroke-width="0.55" stroke-linecap="round"/>
<polygon points="121.55,167.47 132.76,172.68 153.12,169.76" fill="#f1cb5e" stroke="#f1cb5e" stroke-width="0.8" stroke-linejoin="round"/>
<path d="M121.55 167.47L132.76 172.68M132.76 172.68L153.12 169.76" fill="none" stroke="#101820" stroke-opacity="0.9" stroke-width="0.55" stroke-linecap="round"/>
<polygon points="101.2,170.51 132.76,172.68 121.55,167.47" fill="#f1cb5e" stroke="#f1cb5e" stroke-width="0.8" stroke-linejoin="round"/>
<path d="M132.76 172.68L121.55 167.47M121.55 167.47L101.2 170.51" fill="none" stroke="#101820" stroke-opacity="0.9" stroke-width="0.55" stroke-linecap="round"/>
<polygon points="101.2,170.51 112.4,175.6 132.76,172.68" fill="#f1cb5e" stroke="#f1cb5e" stroke-width="0.8" stroke-linejoin="round"/>
<path d="M101.2 170.51L112.4 175.6M112.4 175.6L132.76 172.68" fill="none" stroke="#101820" stroke-opacity="0.9" stroke-width="0.55" stroke-linecap="round"/>
<g stroke="#000" stroke-width="0.18"><text x="26" y="143.13" font-size="8.7" text-anchor="end">0</text>
<text x="26" y="128.88" font-size="8.7" text-anchor="end">5</text>
<text x="26" y="114.63" font-size="8.7" text-anchor="end">10</text>
<text x="26" y="100.38" font-size="8.7" text-anchor="end">15</text>
<text x="26" y="86.13" font-size="8.7" text-anchor="end">20</text>
<text x="26" y="71.88" font-size="8.7" text-anchor="end">25</text>
<text x="26" y="57.63" font-size="8.7" text-anchor="end">30</text>
<text x="26" y="43.38" font-size="8.7" text-anchor="end">35</text>
<text x="26" y="29.13" font-size="8.7" text-anchor="end">40</text>
<text x="13.5" y="93.5" font-size="8.8" text-anchor="middle" transform="rotate(-90 13.5 93.5)">Inhibition from expected</text>
<text x="35" y="151.5" font-size="8.7" text-anchor="end" transform="rotate(-29 35 151.5)">1000</text>
<text x="46.2" y="156.59" font-size="8.7" text-anchor="end" transform="rotate(-29 46.2 156.59)">500</text>
<text x="57.4" y="161.67" font-size="8.7" text-anchor="end" transform="rotate(-29 57.4 161.67)">250</text>
<text x="68.6" y="166.76" font-size="8.7" text-anchor="end" transform="rotate(-29 68.6 166.76)">125</text>
<text x="79.8" y="171.84" font-size="8.7" text-anchor="end" transform="rotate(-29 79.8 171.84)">62.5</text>
<text x="91" y="176.93" font-size="8.7" text-anchor="end" transform="rotate(-29 91 176.93)">31.25</text>
<text x="102.2" y="182.01" font-size="8.7" text-anchor="end" transform="rotate(-29 102.2 182.01)">15.63</text>
<text x="113.4" y="187.1" font-size="8.7" text-anchor="end" transform="rotate(-29 113.4 187.1)">0</text>
<text x="51" y="188" font-size="8.7" text-anchor="middle" transform="rotate(20 51 188)">Baloxavir (nM)</text>
<text x="152.12" y="180.96" font-size="8.7" text-anchor="start" transform="rotate(32 152.12 180.96)">1250</text>
<text x="213.2" y="172.2" font-size="8.7" text-anchor="start" transform="rotate(32 213.2 172.2)">10,000</text>
<text x="190" y="195" font-size="8.7" text-anchor="middle" transform="rotate(-10.2 190 195)">Oseltamivir (nM)</text>
<text x="3.7" y="13.5" font-size="11.5" text-anchor="start" stroke-width="0">A</text></g>
<path d="M34 140L112.4 175.6L214.2 161M34 140L34 142.8M45.2 145.09L45.2 147.89M56.4 150.17L56.4 152.97M67.6 155.26L67.6 158.06M78.8 160.34L78.8 163.14M90 165.43L90 168.23M101.2 170.51L101.2 173.31M112.4 175.6L112.4 178.4M132.76 172.68L132.76 175.48M153.12 169.76L153.12 172.56M173.48 166.84L173.48 169.64M193.84 163.92L193.84 166.72M214.2 161L214.2 163.8" stroke="#2a2a2a" stroke-width="0.65" fill="none"/>
<rect x="221" y="63.6" width="30.6" height="49.8" fill="#fff" stroke="#1b3a57" stroke-width="1"/>
<rect x="223.3" y="66.1" width="3" height="3" fill="#7a1c78" stroke="#16324f" stroke-width="0.9"/>
<text x="228.3" y="69.94" font-size="6.5" text-anchor="start" fill="#14233f">35–40</text>
<rect x="223.3" y="72.1" width="3" height="3" fill="#a030a8" stroke="#16324f" stroke-width="0.9"/>
<text x="228.3" y="75.94" font-size="6.5" text-anchor="start" fill="#14233f">30–35</text>
<rect x="223.3" y="78.1" width="3" height="3" fill="#15335c" stroke="#16324f" stroke-width="0.9"/>
<text x="228.3" y="81.94" font-size="6.5" text-anchor="start" fill="#14233f">25–30</text>
<rect x="223.3" y="84.1" width="3" height="3" fill="#1c4478" stroke="#16324f" stroke-width="0.9"/>
<text x="228.3" y="87.94" font-size="6.5" text-anchor="start" fill="#14233f">20–25</text>
<rect x="223.3" y="90.1" width="3" height="3" fill="#2a66b0" stroke="#16324f" stroke-width="0.9"/>
<text x="228.3" y="93.94" font-size="6.5" text-anchor="start" fill="#14233f">15–20</text>
<rect x="223.3" y="96.1" width="3" height="3" fill="#3f8fe0" stroke="#16324f" stroke-width="0.9"/>
<text x="228.3" y="99.94" font-size="6.5" text-anchor="start" fill="#14233f">10–15</text>
<rect x="223.3" y="102.1" width="3" height="3" fill="#7fc0f5" stroke="#16324f" stroke-width="0.9"/>
<text x="229.7" y="105.94" font-size="6.5" text-anchor="start" fill="#14233f">5–10</text>
<rect x="223.3" y="108.1" width="3" height="3" fill="#f7ea6a" stroke="#16324f" stroke-width="0.9"/>
<text x="229.2" y="111.94" font-size="6.5" text-anchor="start" fill="#14233f">0–5</text>
</g>
<g>
<defs><linearGradient id="g1l" x1="0" y1="0" x2="0" y2="1"><stop offset="0" stop-color="#e6e6e6"/><stop offset="1" stop-color="#d4d4d4"/></linearGradient><linearGradient id="g1d" x1="0" y1="0" x2="1" y2="0"><stop offset="0" stop-color="#707070"/><stop offset="1" stop-color="#666666"/></linearGradient></defs>
<polygon points="324.4,143 404,178.4 506.2,163 427,124" fill="#8a8a8a"/>
<polygon points="324.4,143 427,124 427,13 324.4,28" fill="url(#g1l)" stroke="#4a4a4a" stroke-width="0.6"/>
<polygon points="427,124 506.2,163 506.2,47.6 427,13" fill="url(#g1d)" stroke="#5a5a5a" stroke-width="0.5"/>
<path d="M324.4 123.83L427 105.5M324.4 104.67L427 87M324.4 85.5L427 68.5M324.4 66.33L427 50M324.4 47.17L427 31.5" stroke="#787878" stroke-width="0.55" fill="none"/>
<path d="M427 105.5L506.2 143.77M427 87L506.2 124.53M427 68.5L506.2 105.3M427 50L506.2 86.07M427 31.5L506.2 66.83" stroke="#9a9a9a" stroke-width="0.55" fill="none"/>
<polygon points="431.95,54.76 438.31,63.34 435.75,53.98" fill="#3e90e2" stroke="#3e90e2" stroke-width="0.8" stroke-linejoin="round"/>
<polygon points="417.48,35.27 431.95,54.76 435.75,53.98 429.92,32.8" fill="#265e9e" stroke="#265e9e" stroke-width="0.8" stroke-linejoin="round"/>
<polygon points="406.48,20.47 417.48,35.27 429.92,32.8 427,22.25" fill="#204e84" stroke="#204e84" stroke-width="0.8" stroke-linejoin="round"/>
<path d="M435.75 53.98L431.95 54.76M431.95 54.76L435.75 53.98M429.92 32.8L417.48 35.27M417.48 35.27L429.92 32.8M438.31 63.34L427 22.25M427 22.25L406.48 20.47" fill="none" stroke="#101820" stroke-opacity="0.9" stroke-width="0.55" stroke-linecap="round"/>
<polygon points="414.65,56.91 417.81,71.06 438.31,63.34 431.95,54.76" fill="#3e90e2" stroke="#3e90e2" stroke-width="0.8" stroke-linejoin="round"/>
<polygon points="410.01,36.18 414.65,56.91 431.95,54.76 417.48,35.27" fill="#265e9e" stroke="#265e9e" stroke-width="0.8" stroke-linejoin="round"/>
<polygon points="406.48,20.47 410.01,36.18 417.48,35.27" fill="#204e84" stroke="#204e84" stroke-width="0.8" stroke-linejoin="round"/>
<path d="M431.95 54.76L414.65 56.91M414.65 56.91L431.95 54.76M417.48 35.27L410.01 36.18M410.01 36.18L417.48 35.27M406.48 20.47L417.81 71.06M417.81 71.06L438.31 63.34" fill="none" stroke="#101820" stroke-opacity="0.9" stroke-width="0.55" stroke-linecap="round"/>
<polygon points="388.35,38.79 397.3,53.95 401.35,39.12" fill="#20518b" stroke="#20518b" stroke-width="0.8" stroke-linejoin="round"/>
<polygon points="385.96,34.76 388.35,38.79 401.35,39.12 406.48,20.47" fill="#1a4374" stroke="#1a4374" stroke-width="0.8" stroke-linejoin="round"/>
<path d="M401.35 39.12L388.35 38.79M388.35 38.79L401.35 39.12M385.96 34.76L397.3 53.95M406.48 20.47L385.96 34.76" fill="none" stroke="#101820" stroke-opacity="0.9" stroke-width="0.55" stroke-linecap="round"/>
<polygon points="404.89,60.32 417.81,71.06 414.65,56.91" fill="#3e90e2" stroke="#3e90e2" stroke-width="0.8" stroke-linejoin="round"/>
<polygon points="397.3,53.95 404.89,60.32 414.65,56.91 410.01,36.18 401.35,39.12" fill="#265e9e" stroke="#265e9e" stroke-width="0.8" stroke-linejoin="round"/>
<polygon points="410.01,36.18 406.48,20.47 401.35,39.12" fill="#204e84" stroke="#204e84" stroke-width="0.8" stroke-linejoin="round"/>
<path d="M414.65 56.91L404.89 60.32M404.89 60.32L414.65 56.91M410.01 36.18L401.35 39.12M401.35 39.12L410.01 36.18M397.3 53.95L417.81 71.06M417.81 71.06L406.48 20.47" fill="none" stroke="#101820" stroke-opacity="0.9" stroke-width="0.55" stroke-linecap="round"/>
<polygon points="365.44,29.18 376.79,44.91 385.96,34.76" fill="#204e84" stroke="#204e84" stroke-width="0.8" stroke-linejoin="round"/>
<path d="M365.44 29.18L376.79 44.91M385.96 34.76L365.44 29.18" fill="none" stroke="#101820" stroke-opacity="0.9" stroke-width="0.55" stroke-linecap="round"/>
<polygon points="378.07,45.48 397.3,53.95 388.35,38.79" fill="#265e9e" stroke="#265e9e" stroke-width="0.8" stroke-linejoin="round"/>
<polygon points="376.79,44.91 378.07,45.48 388.35,38.79 385.96,34.76" fill="#204e84" stroke="#204e84" stroke-width="0.8" stroke-linejoin="round"/>
<path d="M388.35 38.79L378.07 45.48M378.07 45.48L388.35 38.79M376.79 44.91L397.3 53.95M397.3 53.95L385.96 34.76" fill="none" stroke="#101820" stroke-opacity="0.9" stroke-width="0.55" stroke-linecap="round"/>
<polygon points="344.92,85.53 356.28,88.88 356.62,86.67 346.24,81.88" fill="#5c7291" stroke="#5c7291" stroke-width="0.8" stroke-linejoin="round"/>
<polygon points="356.62,86.67 359.98,64.61 353.57,61.69 346.24,81.88" fill="#19406e" stroke="#19406e" stroke-width="0.8" stroke-linejoin="round"/>
<polygon points="359.98,64.61 363.35,42.7 360.9,41.59 353.57,61.69" fill="#102c52" stroke="#102c52" stroke-width="0.8" stroke-linejoin="round"/>
<polygon points="363.35,42.7 365.44,29.18 360.9,41.59" fill="#0c2343" stroke="#0c2343" stroke-width="0.8" stroke-linejoin="round"/>
<path d="M356.62 86.67L346.24 81.88M359.98 64.61L353.57 61.69M346.24 81.88L356.62 86.67M363.35 42.7L360.9 41.59M353.57 61.69L359.98 64.61M360.9 41.59L363.35 42.7M344.92 85.53L356.28 88.88M365.44 29.18L344.92 85.53" fill="none" stroke="#101820" stroke-opacity="0.9" stroke-width="0.55" stroke-linecap="round"/>
<polygon points="356.28,88.88 357.24,86.81 356.62,86.67" fill="#728cae" stroke="#728cae" stroke-width="0.8" stroke-linejoin="round"/>
<polygon points="357.24,86.81 366.82,66.21 359.98,64.61 356.62,86.67" fill="#21538b" stroke="#21538b" stroke-width="0.8" stroke-linejoin="round"/>
<polygon points="366.82,66.21 376.41,45.72 363.35,42.7 359.98,64.61" fill="#153865" stroke="#153865" stroke-width="0.8" stroke-linejoin="round"/>
<polygon points="376.41,45.72 376.79,44.91 365.44,29.18 363.35,42.7" fill="#112e54" stroke="#112e54" stroke-width="0.8" stroke-linejoin="round"/>
<path d="M357.24 86.81L356.62 86.67M366.82 66.21L359.98 64.61M356.62 86.67L357.24 86.81M376.41 45.72L363.35 42.7M359.98 64.61L366.82 66.21M363.35 42.7L376.41 45.72M356.28 88.88L376.79 44.91M376.79 44.91L365.44 29.18" fill="none" stroke="#101820" stroke-opacity="0.9" stroke-width="0.55" stroke-linecap="round"/>
<polygon points="324.4,143 335.4,124.29 331.68,122.53" fill="#96772f" stroke="#96772f" stroke-width="0.8" stroke-linejoin="round"/>
<polygon points="335.4,124.29 346.39,105.63 338.95,102.16 331.68,122.53" fill="#5b6e86" stroke="#5b6e86" stroke-width="0.8" stroke-linejoin="round"/>
<polygon points="346.39,105.63 356.28,88.88 344.92,85.53 338.95,102.16" fill="#5c7290" stroke="#5c7290" stroke-width="0.8" stroke-linejoin="round"/>
<path d="M335.4 124.29L331.68 122.53M346.39 105.63L338.95 102.16M331.68 122.53L335.4 124.29M338.95 102.16L346.39 105.63M356.28 88.88L344.92 85.53M344.92 85.53L324.4 143" fill="none" stroke="#101820" stroke-opacity="0.9" stroke-width="0.55" stroke-linecap="round"/>
<polygon points="324.4,143 335.77,148.06 342.84,127.57 335.4,124.29" fill="#977830" stroke="#977830" stroke-width="0.8" stroke-linejoin="round"/>
<polygon points="342.84,127.57 349.92,107.16 346.39,105.63 335.4,124.29" fill="#5d6f87" stroke="#5d6f87" stroke-width="0.8" stroke-linejoin="round"/>
<polygon points="349.92,107.16 356.28,88.88 346.39,105.63" fill="#5d7392" stroke="#5d7392" stroke-width="0.8" stroke-linejoin="round"/>
<path d="M342.84 127.57L335.4 124.29M349.92 107.16L346.39 105.63M335.4 124.29L342.84 127.57M346.39 105.63L349.92 107.16M324.4 143L335.77 148.06M335.77 148.06L356.28 88.88" fill="none" stroke="#101820" stroke-opacity="0.9" stroke-width="0.55" stroke-linecap="round"/>
<polygon points="421.75,78.85 429.13,93.52 433.88,77.87" fill="#b0d5fa" stroke="#b0d5fa" stroke-width="0.8" stroke-linejoin="round"/>
<polygon points="417.81,71.06 421.75,78.85 433.88,77.87 438.31,63.34" fill="#3e90e2" stroke="#3e90e2" stroke-width="0.8" stroke-linejoin="round"/>
<path d="M433.88 77.87L421.75 78.85M421.75 78.85L433.88 77.87M417.81 71.06L429.13 93.52M438.31 63.34L417.81 71.06" fill="none" stroke="#101820" stroke-opacity="0.9" stroke-width="0.55" stroke-linecap="round"/>
<polygon points="438.89,99.47 449.63,105.96 447.14,96.54" fill="#d2e8fd" stroke="#d2e8fd" stroke-width="0.8" stroke-linejoin="round"/>
<polygon points="429.13,93.52 438.89,99.47 447.14,96.54 441.48,75.23 433.88,77.87" fill="#b0d5fa" stroke="#b0d5fa" stroke-width="0.8" stroke-linejoin="round"/>
<polygon points="441.48,75.23 438.31,63.34 433.88,77.87" fill="#3e90e2" stroke="#3e90e2" stroke-width="0.8" stroke-linejoin="round"/>
<path d="M447.14 96.54L438.89 99.47M438.89 99.47L447.14 96.54M441.48 75.23L433.88 77.87M433.88 77.87L441.48 75.23M429.13 93.52L449.63 105.96M449.63 105.96L438.31 63.34" fill="none" stroke="#101820" stroke-opacity="0.9" stroke-width="0.55" stroke-linecap="round"/>
<polygon points="419.58,81.64 429.13,93.52 421.75,78.85" fill="#b0d5fa" stroke="#b0d5fa" stroke-width="0.8" stroke-linejoin="round"/>
<polygon points="403.67,61.86 419.58,81.64 421.75,78.85 417.81,71.06 404.89,60.32" fill="#3e90e2" stroke="#3e90e2" stroke-width="0.8" stroke-linejoin="round"/>
<polygon points="397.3,53.95 403.67,61.86 404.89,60.32" fill="#265e9e" stroke="#265e9e" stroke-width="0.8" stroke-linejoin="round"/>
<path d="M421.75 78.85L419.58 81.64M419.58 81.64L421.75 78.85M404.89 60.32L403.67 61.86M403.67 61.86L404.89 60.32M429.13 93.52L417.81 71.06M417.81 71.06L397.3 53.95" fill="none" stroke="#101820" stroke-opacity="0.9" stroke-width="0.55" stroke-linecap="round"/>
<polygon points="408.01,104.11 408.63,107.05 413.95,103.53" fill="#c9e0f6" stroke="#c9e0f6" stroke-width="0.8" stroke-linejoin="round"/>
<polygon points="403.55,83.15 408.01,104.11 413.95,103.53 429.13,93.52 419.58,81.64" fill="#a9cef3" stroke="#a9cef3" stroke-width="0.8" stroke-linejoin="round"/>
<polygon points="399.08,62.28 403.55,83.15 419.58,81.64 403.67,61.86" fill="#3a88d8" stroke="#3a88d8" stroke-width="0.8" stroke-linejoin="round"/>
<polygon points="397.3,53.95 399.08,62.28 403.67,61.86" fill="#245a98" stroke="#245a98" stroke-width="0.8" stroke-linejoin="round"/>
<path d="M413.95 103.53L408.01 104.11M408.01 104.11L413.95 103.53M419.58 81.64L403.55 83.15M403.55 83.15L419.58 81.64M403.67 61.86L399.08 62.28M399.08 62.28L403.67 61.86M397.3 53.95L408.63 107.05M408.63 107.05L429.13 93.52" fill="none" stroke="#101820" stroke-opacity="0.9" stroke-width="0.55" stroke-linecap="round"/>
<polygon points="382.69,67.2 388.14,87.87 394.6,63.88" fill="#3e90e2" stroke="#3e90e2" stroke-width="0.8" stroke-linejoin="round"/>
<polygon points="377.02,45.76 382.69,67.2 394.6,63.88 397.3,53.95 378.07,45.48" fill="#265e9e" stroke="#265e9e" stroke-width="0.8" stroke-linejoin="round"/>
<polygon points="376.79,44.91 377.02,45.76 378.07,45.48" fill="#204e84" stroke="#204e84" stroke-width="0.8" stroke-linejoin="round"/>
<path d="M394.6 63.88L382.69 67.2M382.69 67.2L394.6 63.88M378.07 45.48L377.02 45.76M377.02 45.76L378.07 45.48M376.79 44.91L388.14 87.87M397.3 53.95L376.79 44.91" fill="none" stroke="#101820" stroke-opacity="0.9" stroke-width="0.55" stroke-linecap="round"/>
<polygon points="406.2,104.79 408.63,107.05 408.01,104.11" fill="#d2e8fd" stroke="#d2e8fd" stroke-width="0.8" stroke-linejoin="round"/>
<polygon points="388.83,88.52 406.2,104.79 408.01,104.11 403.55,83.15" fill="#b0d5fa" stroke="#b0d5fa" stroke-width="0.8" stroke-linejoin="round"/>
<polygon points="388.14,87.87 388.83,88.52 403.55,83.15 399.08,62.28 394.6,63.88" fill="#3e90e2" stroke="#3e90e2" stroke-width="0.8" stroke-linejoin="round"/>
<polygon points="399.08,62.28 397.3,53.95 394.6,63.88" fill="#265e9e" stroke="#265e9e" stroke-width="0.8" stroke-linejoin="round"/>
<path d="M408.01 104.11L406.2 104.79M406.2 104.79L408.01 104.11M403.55 83.15L388.83 88.52M388.83 88.52L403.55 83.15M399.08 62.28L394.6 63.88M394.6 63.88L399.08 62.28M388.14 87.87L408.63 107.05M408.63 107.05L397.3 53.95" fill="none" stroke="#101820" stroke-opacity="0.9" stroke-width="0.55" stroke-linecap="round"/>
<polygon points="356.28,88.88 367.64,92.22 367.73,91.76 357.24,86.81" fill="#627999" stroke="#627999" stroke-width="0.8" stroke-linejoin="round"/>
<polygon points="367.73,91.76 372.17,68.7 366.82,66.21 357.24,86.81" fill="#1b4576" stroke="#1b4576" stroke-width="0.8" stroke-linejoin="round"/>
<polygon points="372.17,68.7 376.61,45.82 376.41,45.72 366.82,66.21" fill="#112f57" stroke="#112f57" stroke-width="0.8" stroke-linejoin="round"/>
<polygon points="376.61,45.82 376.79,44.91 376.41,45.72" fill="#0e2647" stroke="#0e2647" stroke-width="0.8" stroke-linejoin="round"/>
<path d="M367.73 91.76L357.24 86.81M372.17 68.7L366.82 66.21M357.24 86.81L367.73 91.76M376.61 45.82L376.41 45.72M366.82 66.21L372.17 68.7M376.41 45.72L376.61 45.82M356.28 88.88L367.64 92.22M376.79 44.91L356.28 88.88" fill="none" stroke="#101820" stroke-opacity="0.9" stroke-width="0.55" stroke-linecap="round"/>
<polygon points="367.64,92.22 374.47,90.77 367.73,91.76" fill="#b0d5fa" stroke="#b0d5fa" stroke-width="0.8" stroke-linejoin="round"/>
<polygon points="374.47,90.77 388.14,87.87 382.69,67.2 372.17,68.7 367.73,91.76" fill="#3e90e2" stroke="#3e90e2" stroke-width="0.8" stroke-linejoin="round"/>
<polygon points="382.69,67.2 377.02,45.76 376.61,45.82 372.17,68.7" fill="#265e9e" stroke="#265e9e" stroke-width="0.8" stroke-linejoin="round"/>
<polygon points="377.02,45.76 376.79,44.91 376.61,45.82" fill="#204e84" stroke="#204e84" stroke-width="0.8" stroke-linejoin="round"/>
<path d="M374.47 90.77L367.73 91.76M382.69 67.2L372.17 68.7M367.73 91.76L374.47 90.77M377.02 45.76L376.61 45.82M372.17 68.7L382.69 67.2M376.61 45.82L377.02 45.76M367.64 92.22L388.14 87.87M388.14 87.87L376.79 44.91" fill="none" stroke="#101820" stroke-opacity="0.9" stroke-width="0.55" stroke-linecap="round"/>
<polygon points="335.77,148.06 346.47,129.28 342.84,127.57" fill="#95762e" stroke="#95762e" stroke-width="0.8" stroke-linejoin="round"/>
<polygon points="346.47,129.28 357.16,110.54 349.92,107.16 342.84,127.57" fill="#5a6d85" stroke="#5a6d85" stroke-width="0.8" stroke-linejoin="round"/>
<polygon points="357.16,110.54 367.64,92.22 356.28,88.88 349.92,107.16" fill="#5c7190" stroke="#5c7190" stroke-width="0.8" stroke-linejoin="round"/>
<path d="M346.47 129.28L342.84 127.57M357.16 110.54L349.92 107.16M342.84 127.57L346.47 129.28M349.92 107.16L357.16 110.54M367.64 92.22L356.28 88.88M356.28 88.88L335.77 148.06" fill="none" stroke="#101820" stroke-opacity="0.9" stroke-width="0.55" stroke-linecap="round"/>
<polygon points="335.77,148.06 347.14,153.11 354.02,132.59 346.47,129.28" fill="#96772f" stroke="#96772f" stroke-width="0.8" stroke-linejoin="round"/>
<polygon points="354.02,132.59 360.9,112.16 357.16,110.54 346.47,129.28" fill="#5c6e87" stroke="#5c6e87" stroke-width="0.8" stroke-linejoin="round"/>
<polygon points="360.9,112.16 367.64,92.22 357.16,110.54" fill="#5c7291" stroke="#5c7291" stroke-width="0.8" stroke-linejoin="round"/>
<path d="M354.02 132.59L346.47 129.28M360.9 112.16L357.16 110.54M346.47 129.28L354.02 132.59M357.16 110.54L360.9 112.16M335.77 148.06L347.14 153.11M347.14 153.11L367.64 92.22" fill="none" stroke="#101820" stroke-opacity="0.9" stroke-width="0.55" stroke-linecap="round"/>
<polygon points="438.57,105.44 440.46,107.84 449.63,105.96 438.89,99.47" fill="#d2e8fd" stroke="#d2e8fd" stroke-width="0.8" stroke-linejoin="round"/>
<polygon points="429.13,93.52 438.57,105.44 438.89,99.47" fill="#b0d5fa" stroke="#b0d5fa" stroke-width="0.8" stroke-linejoin="round"/>
<path d="M438.89 99.47L438.57 105.44M438.57 105.44L438.89 99.47M429.13 93.52L440.46 107.84M449.63 105.96L429.13 93.52" fill="none" stroke="#101820" stroke-opacity="0.9" stroke-width="0.55" stroke-linecap="round"/>
<polygon points="453.92,123.05 460.94,130.93 455.72,119.38" fill="#ffec7d" stroke="#ffec7d" stroke-width="0.8" stroke-linejoin="round"/>
<polygon points="440.46,107.84 453.92,123.05 455.72,119.38 449.63,105.96" fill="#d2e8fd" stroke="#d2e8fd" stroke-width="0.8" stroke-linejoin="round"/>
<path d="M455.72 119.38L453.92 123.05M453.92 123.05L455.72 119.38M440.46 107.84L460.94 130.93M460.94 130.93L449.63 105.96" fill="none" stroke="#101820" stroke-opacity="0.9" stroke-width="0.55" stroke-linecap="round"/>
<polygon points="408.63,107.05 440.46,107.84 438.57,105.44 413.95,103.53" fill="#b1cae3" stroke="#b1cae3" stroke-width="0.8" stroke-linejoin="round"/>
<polygon points="438.57,105.44 429.13,93.52 413.95,103.53" fill="#95b9df" stroke="#95b9df" stroke-width="0.8" stroke-linejoin="round"/>
<path d="M438.57 105.44L413.95 103.53M413.95 103.53L438.57 105.44M440.46 107.84L429.13 93.52M429.13 93.52L408.63 107.05" fill="none" stroke="#101820" stroke-opacity="0.9" stroke-width="0.55" stroke-linecap="round"/>
<polygon points="408.63,107.05 419.97,128.63 440.46,107.84" fill="#abc4dd" stroke="#abc4dd" stroke-width="0.8" stroke-linejoin="round"/>
<path d="M408.63 107.05L419.97 128.63M419.97 128.63L440.46 107.84" fill="none" stroke="#101820" stroke-opacity="0.9" stroke-width="0.55" stroke-linecap="round"/>
<polygon points="406.9,106 408.63,107.05 406.2,104.79" fill="#d2e8fd" stroke="#d2e8fd" stroke-width="0.8" stroke-linejoin="round"/>
<polygon points="389.17,89.08 399.49,101.28 406.9,106 406.2,104.79 388.83,88.52" fill="#b0d5fa" stroke="#b0d5fa" stroke-width="0.8" stroke-linejoin="round"/>
<polygon points="388.14,87.87 389.17,89.08 388.83,88.52" fill="#3e90e2" stroke="#3e90e2" stroke-width="0.8" stroke-linejoin="round"/>
<path d="M406.2 104.79L406.9 106M406.9 106L406.2 104.79M388.83 88.52L389.17 89.08M389.17 89.08L388.83 88.52M388.14 87.87L399.49 101.28M408.63 107.05L388.14 87.87" fill="none" stroke="#101820" stroke-opacity="0.9" stroke-width="0.55" stroke-linecap="round"/>
<polygon points="407.17,111.58 419.97,128.63 408.63,107.05 406.9,106" fill="#d2e8fd" stroke="#d2e8fd" stroke-width="0.8" stroke-linejoin="round"/>
<polygon points="399.49,101.28 407.17,111.58 406.9,106" fill="#b0d5fa" stroke="#b0d5fa" stroke-width="0.8" stroke-linejoin="round"/>
<path d="M406.9 106L407.17 111.58M407.17 111.58L406.9 106M399.49 101.28L419.97 128.63M419.97 128.63L408.63 107.05" fill="none" stroke="#101820" stroke-opacity="0.9" stroke-width="0.55" stroke-linecap="round"/>
<polygon points="367.64,92.22 379,99.8 386.31,90.26 374.47,90.77" fill="#9ec2e8" stroke="#9ec2e8" stroke-width="0.8" stroke-linejoin="round"/>
<polygon points="386.31,90.26 388.14,87.87 374.47,90.77" fill="#347cc7" stroke="#347cc7" stroke-width="0.8" stroke-linejoin="round"/>
<path d="M386.31 90.26L374.47 90.77M374.47 90.77L386.31 90.26M367.64 92.22L379 99.8M388.14 87.87L367.64 92.22" fill="none" stroke="#101820" stroke-opacity="0.9" stroke-width="0.55" stroke-linecap="round"/>
<polygon points="379,99.8 399.49,101.28 389.17,89.08 386.31,90.26" fill="#b0d5fa" stroke="#b0d5fa" stroke-width="0.8" stroke-linejoin="round"/>
<polygon points="389.17,89.08 388.14,87.87 386.31,90.26" fill="#3e90e2" stroke="#3e90e2" stroke-width="0.8" stroke-linejoin="round"/>
<path d="M389.17 89.08L386.31 90.26M386.31 90.26L389.17 89.08M379 99.8L399.49 101.28M399.49 101.28L388.14 87.87" fill="none" stroke="#101820" stroke-opacity="0.9" stroke-width="0.55" stroke-linecap="round"/>
<polygon points="347.14,153.11 358.51,158.17 361.57,135.91 354.02,132.59" fill="#96772f" stroke="#96772f" stroke-width="0.8" stroke-linejoin="round"/>
<polygon points="361.57,135.91 364.64,113.78 360.9,112.16 354.02,132.59" fill="#5c6e87" stroke="#5c6e87" stroke-width="0.8" stroke-linejoin="round"/>
<polygon points="364.64,113.78 367.64,92.22 360.9,112.16" fill="#5c7291" stroke="#5c7291" stroke-width="0.8" stroke-linejoin="round"/>
<path d="M361.57 135.91L354.02 132.59M364.64 113.78L360.9 112.16M354.02 132.59L361.57 135.91M360.9 112.16L364.64 113.78M347.14 153.11L358.51 158.17M367.64 92.22L347.14 153.11" fill="none" stroke="#101820" stroke-opacity="0.9" stroke-width="0.55" stroke-linecap="round"/>
<polygon points="358.51,158.17 365.73,137.53 361.57,135.91" fill="#9c7d32" stroke="#9c7d32" stroke-width="0.8" stroke-linejoin="round"/>
<polygon points="365.73,137.53 372.94,116.99 364.64,113.78 361.57,135.91" fill="#61748d" stroke="#61748d" stroke-width="0.8" stroke-linejoin="round"/>
<polygon points="372.94,116.99 379,99.8 367.64,92.22 364.64,113.78" fill="#607796" stroke="#607796" stroke-width="0.8" stroke-linejoin="round"/>
<path d="M365.73 137.53L361.57 135.91M372.94 116.99L364.64 113.78M361.57 135.91L365.73 137.53M364.64 113.78L372.94 116.99M358.51 158.17L379 99.8M379 99.8L367.64 92.22" fill="none" stroke="#101820" stroke-opacity="0.9" stroke-width="0.55" stroke-linecap="round"/>
<polygon points="455.7,126.25 472.26,146.29 460.94,130.93 453.92,123.05" fill="#ffec7d" stroke="#ffec7d" stroke-width="0.8" stroke-linejoin="round"/>
<polygon points="440.46,107.84 455.7,126.25 453.92,123.05" fill="#d2e8fd" stroke="#d2e8fd" stroke-width="0.8" stroke-linejoin="round"/>
<path d="M453.92 123.05L455.7 126.25M455.7 126.25L453.92 123.05M472.26 146.29L460.94 130.93M460.94 130.93L440.46 107.84" fill="none" stroke="#101820" stroke-opacity="0.9" stroke-width="0.55" stroke-linecap="round"/>
<polygon points="453.64,130.33 472.26,146.29 455.7,126.25" fill="#ffec7d" stroke="#ffec7d" stroke-width="0.8" stroke-linejoin="round"/>
<polygon points="440.46,107.84 451.78,128.73 453.64,130.33 455.7,126.25" fill="#d2e8fd" stroke="#d2e8fd" stroke-width="0.8" stroke-linejoin="round"/>
<path d="M455.7 126.25L453.64 130.33M453.64 130.33L455.7 126.25M440.46 107.84L451.78 128.73M451.78 128.73L472.26 146.29" fill="none" stroke="#101820" stroke-opacity="0.9" stroke-width="0.55" stroke-linecap="round"/>
<polygon points="419.97,128.63 431.31,131.98 440.46,107.84" fill="#8399b1" stroke="#8399b1" stroke-width="0.8" stroke-linejoin="round"/>
<path d="M419.97 128.63L431.31 131.98M440.46 107.84L419.97 128.63" fill="none" stroke="#101820" stroke-opacity="0.9" stroke-width="0.55" stroke-linecap="round"/>
<polygon points="431.31,131.98 451.78,128.73 440.46,107.84" fill="#d2e8fd" stroke="#d2e8fd" stroke-width="0.8" stroke-linejoin="round"/>
<path d="M431.31 131.98L451.78 128.73M451.78 128.73L440.46 107.84" fill="none" stroke="#101820" stroke-opacity="0.9" stroke-width="0.55" stroke-linecap="round"/>
<polygon points="412.22,113.54 431.31,131.98 419.97,128.63 407.17,111.58" fill="#d1e7fc" stroke="#d1e7fc" stroke-width="0.8" stroke-linejoin="round"/>
<polygon points="399.49,101.28 412.22,113.54 407.17,111.58" fill="#afd4f9" stroke="#afd4f9" stroke-width="0.8" stroke-linejoin="round"/>
<path d="M407.17 111.58L412.22 113.54M412.22 113.54L407.17 111.58M431.31 131.98L419.97 128.63M419.97 128.63L399.49 101.28" fill="none" stroke="#101820" stroke-opacity="0.9" stroke-width="0.55" stroke-linecap="round"/>
<polygon points="410.17,136.85 410.83,139.08 421.07,135.52" fill="#ffec7d" stroke="#ffec7d" stroke-width="0.8" stroke-linejoin="round"/>
<polygon points="403.49,114.58 410.17,136.85 421.07,135.52 431.31,131.98 412.22,113.54" fill="#d2e8fd" stroke="#d2e8fd" stroke-width="0.8" stroke-linejoin="round"/>
<polygon points="399.49,101.28 403.49,114.58 412.22,113.54" fill="#b0d5fa" stroke="#b0d5fa" stroke-width="0.8" stroke-linejoin="round"/>
<path d="M421.07 135.52L410.17 136.85M410.17 136.85L421.07 135.52M412.22 113.54L403.49 114.58M403.49 114.58L412.22 113.54M399.49 101.28L410.83 139.08M410.83 139.08L431.31 131.98" fill="none" stroke="#101820" stroke-opacity="0.9" stroke-width="0.55" stroke-linecap="round"/>
<polygon points="409.19,137.06 410.83,139.08 410.17,136.85" fill="#ffec7d" stroke="#ffec7d" stroke-width="0.8" stroke-linejoin="round"/>
<polygon points="392.79,116.8 409.19,137.06 410.17,136.85 403.49,114.58" fill="#d2e8fd" stroke="#d2e8fd" stroke-width="0.8" stroke-linejoin="round"/>
<polygon points="379,99.8 392.79,116.8 403.49,114.58 399.49,101.28" fill="#b0d5fa" stroke="#b0d5fa" stroke-width="0.8" stroke-linejoin="round"/>
<path d="M410.17 136.85L409.19 137.06M409.19 137.06L410.17 136.85M403.49 114.58L392.79 116.8M392.79 116.8L403.49 114.58M410.83 139.08L399.49 101.28M399.49 101.28L379 99.8" fill="none" stroke="#101820" stroke-opacity="0.9" stroke-width="0.55" stroke-linecap="round"/>
<polygon points="390.36,140.42 390.36,140.42 410.83,139.08 409.19,137.06" fill="#ffec7d" stroke="#ffec7d" stroke-width="0.8" stroke-linejoin="round"/>
<polygon points="384.19,118.3 390.36,140.42 390.36,140.42 409.19,137.06 392.79,116.8" fill="#d2e8fd" stroke="#d2e8fd" stroke-width="0.8" stroke-linejoin="round"/>
<polygon points="379,99.8 384.19,118.3 392.79,116.8" fill="#b0d5fa" stroke="#b0d5fa" stroke-width="0.8" stroke-linejoin="round"/>
<path d="M390.36 140.42L390.36 140.42M409.19 137.06L390.36 140.42M390.36 140.42L390.36 140.42M390.36 140.42L409.19 137.06M392.79 116.8L384.19 118.3M384.19 118.3L392.79 116.8M379 99.8L390.36 140.42M390.36 140.42L410.83 139.08" fill="none" stroke="#101820" stroke-opacity="0.9" stroke-width="0.55" stroke-linecap="round"/>
<polygon points="358.51,158.17 369.89,163.23 373.09,140.77 365.73,137.53" fill="#987930" stroke="#987930" stroke-width="0.8" stroke-linejoin="round"/>
<polygon points="373.09,140.77 376.3,118.45 372.94,116.99 365.73,137.53" fill="#5d7088" stroke="#5d7088" stroke-width="0.8" stroke-linejoin="round"/>
<polygon points="376.3,118.45 379,99.8 372.94,116.99" fill="#5d7392" stroke="#5d7392" stroke-width="0.8" stroke-linejoin="round"/>
<path d="M373.09 140.77L365.73 137.53M376.3 118.45L372.94 116.99M365.73 137.53L373.09 140.77M372.94 116.99L376.3 118.45M358.51 158.17L369.89 163.23M379 99.8L358.51 158.17" fill="none" stroke="#101820" stroke-opacity="0.9" stroke-width="0.55" stroke-linecap="round"/>
<polygon points="369.89,163.23 390.36,140.42 390.36,140.42 373.09,140.77" fill="#f3d063" stroke="#f3d063" stroke-width="0.8" stroke-linejoin="round"/>
<polygon points="390.36,140.42 390.36,140.42 384.19,118.3 376.3,118.45 373.09,140.77" fill="#b7d0e8" stroke="#b7d0e8" stroke-width="0.8" stroke-linejoin="round"/>
<polygon points="384.19,118.3 379,99.8 376.3,118.45" fill="#9abee4" stroke="#9abee4" stroke-width="0.8" stroke-linejoin="round"/>
<path d="M390.36 140.42L390.36 140.42M390.36 140.42L373.09 140.77M390.36 140.42L390.36 140.42M384.19 118.3L376.3 118.45M373.09 140.77L390.36 140.42M376.3 118.45L384.19 118.3M369.89 163.23L390.36 140.42M390.36 140.42L379 99.8" fill="none" stroke="#101820" stroke-opacity="0.9" stroke-width="0.55" stroke-linecap="round"/>
<polygon points="454.67,130.82 483.57,151.86 472.26,146.29 453.64,130.33" fill="#ffec7d" stroke="#ffec7d" stroke-width="0.8" stroke-linejoin="round"/>
<polygon points="451.78,128.73 454.67,130.82 453.64,130.33" fill="#d2e8fd" stroke="#d2e8fd" stroke-width="0.8" stroke-linejoin="round"/>
<path d="M453.64 130.33L454.67 130.82M454.67 130.82L453.64 130.33M483.57 151.86L472.26 146.29M472.26 146.29L451.78 128.73" fill="none" stroke="#101820" stroke-opacity="0.9" stroke-width="0.55" stroke-linecap="round"/>
<polygon points="452.85,131.14 463.11,154.38 483.57,151.86 454.67,130.82" fill="#ffec7d" stroke="#ffec7d" stroke-width="0.8" stroke-linejoin="round"/>
<polygon points="451.78,128.73 452.85,131.14 454.67,130.82" fill="#d2e8fd" stroke="#d2e8fd" stroke-width="0.8" stroke-linejoin="round"/>
<path d="M454.67 130.82L452.85 131.14M452.85 131.14L454.67 130.82M451.78 128.73L463.11 154.38M463.11 154.38L483.57 151.86" fill="none" stroke="#101820" stroke-opacity="0.9" stroke-width="0.55" stroke-linecap="round"/>
<polygon points="432.63,134.5 442.65,153.8 450.72,131.63" fill="#ffec7d" stroke="#ffec7d" stroke-width="0.8" stroke-linejoin="round"/>
<polygon points="431.31,131.98 432.63,134.5 450.72,131.63 451.78,128.73" fill="#d2e8fd" stroke="#d2e8fd" stroke-width="0.8" stroke-linejoin="round"/>
<path d="M450.72 131.63L432.63 134.5M432.63 134.5L450.72 131.63M431.31 131.98L442.65 153.8M451.78 128.73L431.31 131.98" fill="none" stroke="#101820" stroke-opacity="0.9" stroke-width="0.55" stroke-linecap="round"/>
<polygon points="442.65,153.8 463.11,154.38 452.85,131.14 450.72,131.63" fill="#ffec7d" stroke="#ffec7d" stroke-width="0.8" stroke-linejoin="round"/>
<polygon points="452.85,131.14 451.78,128.73 450.72,131.63" fill="#d2e8fd" stroke="#d2e8fd" stroke-width="0.8" stroke-linejoin="round"/>
<path d="M452.85 131.14L450.72 131.63M450.72 131.63L452.85 131.14M442.65 153.8L463.11 154.38M463.11 154.38L451.78 128.73" fill="none" stroke="#101820" stroke-opacity="0.9" stroke-width="0.55" stroke-linecap="round"/>
<polygon points="410.83,139.08 413.2,138.23 421.07,135.52" fill="#c5a347" stroke="#c5a347" stroke-width="0.8" stroke-linejoin="round"/>
<polygon points="413.2,138.23 422.18,134.95 431.31,131.98 421.07,135.52" fill="#889eb7" stroke="#889eb7" stroke-width="0.8" stroke-linejoin="round"/>
<path d="M413.2 138.23L421.07 135.52M421.07 135.52L413.2 138.23M410.83 139.08L422.18 134.95M431.31 131.98L410.83 139.08" fill="none" stroke="#101820" stroke-opacity="0.9" stroke-width="0.55" stroke-linecap="round"/>
<polygon points="429,141.27 442.65,153.8 432.63,134.5" fill="#ffec7d" stroke="#ffec7d" stroke-width="0.8" stroke-linejoin="round"/>
<polygon points="422.18,134.95 429,141.27 432.63,134.5 431.31,131.98" fill="#d2e8fd" stroke="#d2e8fd" stroke-width="0.8" stroke-linejoin="round"/>
<path d="M432.63 134.5L429 141.27M429 141.27L432.63 134.5M422.18 134.95L442.65 153.8M442.65 153.8L431.31 131.98" fill="none" stroke="#101820" stroke-opacity="0.9" stroke-width="0.55" stroke-linecap="round"/>
<polygon points="390.36,140.42 390.36,140.42 413.2,138.23 410.83,139.08" fill="#d1ae4e" stroke="#d1ae4e" stroke-width="0.8" stroke-linejoin="round"/>
<polygon points="390.36,140.42 422.18,134.95 413.2,138.23 390.36,140.42" fill="#94aac3" stroke="#94aac3" stroke-width="0.8" stroke-linejoin="round"/>
<path d="M390.36 140.42L390.36 140.42M390.36 140.42L413.2 138.23M413.2 138.23L390.36 140.42M390.36 140.42L390.36 140.42M422.18 134.95L410.83 139.08M410.83 139.08L390.36 140.42" fill="none" stroke="#101820" stroke-opacity="0.9" stroke-width="0.55" stroke-linecap="round"/>
<polygon points="390.36,140.42 401.72,163.05 416.11,143.26 390.36,140.42" fill="#ddb854" stroke="#ddb854" stroke-width="0.8" stroke-linejoin="round"/>
<polygon points="390.36,140.42 390.36,140.42 416.11,143.26 422.18,134.95" fill="#9fb6cf" stroke="#9fb6cf" stroke-width="0.8" stroke-linejoin="round"/>
<path d="M416.11 143.26L390.36 140.42M390.36 140.42L390.36 140.42M390.36 140.42L390.36 140.42M390.36 140.42L416.11 143.26M390.36 140.42L401.72 163.05M401.72 163.05L422.18 134.95" fill="none" stroke="#101820" stroke-opacity="0.9" stroke-width="0.55" stroke-linecap="round"/>
<polygon points="369.89,163.23 381.26,168.29 390.36,140.42" fill="#c2a046" stroke="#c2a046" stroke-width="0.8" stroke-linejoin="round"/>
<path d="M369.89 163.23L381.26 168.29M390.36 140.42L369.89 163.23" fill="none" stroke="#101820" stroke-opacity="0.9" stroke-width="0.55" stroke-linecap="round"/>
<polygon points="381.26,168.29 401.72,163.05 390.36,140.42" fill="#ffec7d" stroke="#ffec7d" stroke-width="0.8" stroke-linejoin="round"/>
<path d="M381.26 168.29L401.72 163.05M401.72 163.05L390.36 140.42" fill="none" stroke="#101820" stroke-opacity="0.9" stroke-width="0.55" stroke-linecap="round"/>
<polygon points="463.11,154.38 494.89,157.43 483.57,151.86" fill="#f2ce61" stroke="#f2ce61" stroke-width="0.8" stroke-linejoin="round"/>
<path d="M494.89 157.43L483.57 151.86M483.57 151.86L463.11 154.38" fill="none" stroke="#101820" stroke-opacity="0.9" stroke-width="0.55" stroke-linecap="round"/>
<polygon points="463.11,154.38 474.43,160.61 494.89,157.43" fill="#f3cf62" stroke="#f3cf62" stroke-width="0.8" stroke-linejoin="round"/>
<path d="M463.11 154.38L474.43 160.61M474.43 160.61L494.89 157.43" fill="none" stroke="#101820" stroke-opacity="0.9" stroke-width="0.55" stroke-linecap="round"/>
<polygon points="442.65,153.8 474.43,160.61 463.11,154.38" fill="#f8dc6e" stroke="#f8dc6e" stroke-width="0.8" stroke-linejoin="round"/>
<path d="M474.43 160.61L463.11 154.38M463.11 154.38L442.65 153.8" fill="none" stroke="#101820" stroke-opacity="0.9" stroke-width="0.55" stroke-linecap="round"/>
<polygon points="442.65,153.8 453.98,163.79 474.43,160.61" fill="#fbe273" stroke="#fbe273" stroke-width="0.8" stroke-linejoin="round"/>
<path d="M442.65 153.8L453.98 163.79M453.98 163.79L474.43 160.61" fill="none" stroke="#101820" stroke-opacity="0.9" stroke-width="0.55" stroke-linecap="round"/>
<polygon points="430.94,142.88 453.98,163.79 442.65,153.8 429,141.27" fill="#ffec7d" stroke="#ffec7d" stroke-width="0.8" stroke-linejoin="round"/>
<polygon points="422.18,134.95 430.94,142.88 429,141.27" fill="#d2e8fd" stroke="#d2e8fd" stroke-width="0.8" stroke-linejoin="round"/>
<path d="M429 141.27L430.94 142.88M430.94 142.88L429 141.27M453.98 163.79L442.65 153.8M442.65 153.8L422.18 134.95" fill="none" stroke="#101820" stroke-opacity="0.9" stroke-width="0.55" stroke-linecap="round"/>
<polygon points="425.31,143.74 433.53,166.98 453.98,163.79 430.94,142.88" fill="#ffec7d" stroke="#ffec7d" stroke-width="0.8" stroke-linejoin="round"/>
<polygon points="422.18,134.95 425.31,143.74 430.94,142.88" fill="#d2e8fd" stroke="#d2e8fd" stroke-width="0.8" stroke-linejoin="round"/>
<path d="M430.94 142.88L425.31 143.74M425.31 143.74L430.94 142.88M422.18 134.95L433.53 166.98M433.53 166.98L453.98 163.79" fill="none" stroke="#101820" stroke-opacity="0.9" stroke-width="0.55" stroke-linecap="round"/>
<polygon points="401.72,163.05 413.08,170.16 419.67,144.6 416.11,143.26" fill="#bd9b43" stroke="#bd9b43" stroke-width="0.8" stroke-linejoin="round"/>
<polygon points="419.67,144.6 422.18,134.95 416.11,143.26" fill="#8096ae" stroke="#8096ae" stroke-width="0.8" stroke-linejoin="round"/>
<path d="M419.67 144.6L416.11 143.26M416.11 143.26L419.67 144.6M401.72 163.05L413.08 170.16M422.18 134.95L401.72 163.05" fill="none" stroke="#101820" stroke-opacity="0.9" stroke-width="0.55" stroke-linecap="round"/>
<polygon points="413.08,170.16 433.53,166.98 425.31,143.74 419.67,144.6" fill="#ffec7d" stroke="#ffec7d" stroke-width="0.8" stroke-linejoin="round"/>
<polygon points="425.31,143.74 422.18,134.95 419.67,144.6" fill="#d2e8fd" stroke="#d2e8fd" stroke-width="0.8" stroke-linejoin="round"/>
<path d="M425.31 143.74L419.67 144.6M419.67 144.6L425.31 143.74M413.08 170.16L433.53 166.98M433.53 166.98L422.18 134.95" fill="none" stroke="#101820" stroke-opacity="0.9" stroke-width="0.55" stroke-linecap="round"/>
<polygon points="381.26,168.29 392.63,173.34 401.72,163.05" fill="#ecc75c" stroke="#ecc75c" stroke-width="0.8" stroke-linejoin="round"/>
<path d="M381.26 168.29L392.63 173.34M401.72 163.05L381.26 168.29" fill="none" stroke="#101820" stroke-opacity="0.9" stroke-width="0.55" stroke-linecap="round"/>
<polygon points="392.63,173.34 413.08,170.16 401.72,163.05" fill="#f5d568" stroke="#f5d568" stroke-width="0.8" stroke-linejoin="round"/>
<path d="M392.63 173.34L413.08 170.16M413.08 170.16L401.72 163.05" fill="none" stroke="#101820" stroke-opacity="0.9" stroke-width="0.55" stroke-linecap="round"/>
<polygon points="474.43,160.61 506.2,163 494.89,157.43" fill="#f1cb5e" stroke="#f1cb5e" stroke-width="0.8" stroke-linejoin="round"/>
<path d="M506.2 163L494.89 157.43M494.89 157.43L474.43 160.61" fill="none" stroke="#101820" stroke-opacity="0.9" stroke-width="0.55" stroke-linecap="round"/>
<polygon points="474.43,160.61 485.76,166.08 506.2,163" fill="#f1cb5e" stroke="#f1cb5e" stroke-width="0.8" stroke-linejoin="round"/>
<path d="M474.43 160.61L485.76 166.08M485.76 166.08L506.2 163" fill="none" stroke="#101820" stroke-opacity="0.9" stroke-width="0.55" stroke-linecap="round"/>
<polygon points="453.98,163.79 485.76,166.08 474.43,160.61" fill="#f1cb5e" stroke="#f1cb5e" stroke-width="0.8" stroke-linejoin="round"/>
<path d="M485.76 166.08L474.43 160.61M474.43 160.61L453.98 163.79" fill="none" stroke="#101820" stroke-opacity="0.9" stroke-width="0.55" stroke-linecap="round"/>
<polygon points="453.98,163.79 465.32,169.16 485.76,166.08" fill="#f1cb5e" stroke="#f1cb5e" stroke-width="0.8" stroke-linejoin="round"/>
<path d="M453.98 163.79L465.32 169.16M465.32 169.16L485.76 166.08" fill="none" stroke="#101820" stroke-opacity="0.9" stroke-width="0.55" stroke-linecap="round"/>
<polygon points="433.53,166.98 465.32,169.16 453.98,163.79" fill="#f1cb5e" stroke="#f1cb5e" stroke-width="0.8" stroke-linejoin="round"/>
<path d="M465.32 169.16L453.98 163.79M453.98 163.79L433.53 166.98" fill="none" stroke="#101820" stroke-opacity="0.9" stroke-width="0.55" stroke-linecap="round"/>
<polygon points="433.53,166.98 444.88,172.24 465.32,169.16" fill="#f1cb5e" stroke="#f1cb5e" stroke-width="0.8" stroke-linejoin="round"/>
<path d="M433.53 166.98L444.88 172.24M444.88 172.24L465.32 169.16" fill="none" stroke="#101820" stroke-opacity="0.9" stroke-width="0.55" stroke-linecap="round"/>
<polygon points="413.08,170.16 444.88,172.24 433.53,166.98" fill="#f1cb5e" stroke="#f1cb5e" stroke-width="0.8" stroke-linejoin="round"/>
<path d="M444.88 172.24L433.53 166.98M433.53 166.98L413.08 170.16" fill="none" stroke="#101820" stroke-opacity="0.9" stroke-width="0.55" stroke-linecap="round"/>
<polygon points="413.08,170.16 424.44,175.32 444.88,172.24" fill="#f1cb5e" stroke="#f1cb5e" stroke-width="0.8" stroke-linejoin="round"/>
<path d="M413.08 170.16L424.44 175.32M424.44 175.32L444.88 172.24" fill="none" stroke="#101820" stroke-opacity="0.9" stroke-width="0.55" stroke-linecap="round"/>
<polygon points="392.63,173.34 424.44,175.32 413.08,170.16" fill="#f1cb5e" stroke="#f1cb5e" stroke-width="0.8" stroke-linejoin="round"/>
<path d="M424.44 175.32L413.08 170.16M413.08 170.16L392.63 173.34" fill="none" stroke="#101820" stroke-opacity="0.9" stroke-width="0.55" stroke-linecap="round"/>
<polygon points="392.63,173.34 404,178.4 424.44,175.32" fill="#f1cb5e" stroke="#f1cb5e" stroke-width="0.8" stroke-linejoin="round"/>
<path d="M392.63 173.34L404 178.4M404 178.4L424.44 175.32" fill="none" stroke="#101820" stroke-opacity="0.9" stroke-width="0.55" stroke-linecap="round"/>
<g stroke="#000" stroke-width="0.18"><text x="316.4" y="146.24" font-size="9" text-anchor="end">0</text>
<text x="316.4" y="127.07" font-size="9" text-anchor="end">5</text>
<text x="316.4" y="107.91" font-size="9" text-anchor="end">10</text>
<text x="316.4" y="88.74" font-size="9" text-anchor="end">15</text>
<text x="316.4" y="69.57" font-size="9" text-anchor="end">20</text>
<text x="316.4" y="50.41" font-size="9" text-anchor="end">25</text>
<text x="316.4" y="31.24" font-size="9" text-anchor="end">30</text>
<text x="299.5" y="98.3" font-size="9.1" text-anchor="middle" transform="rotate(-90 299.5 98.3)">Inhibition from expected</text>
<text x="325.4" y="154.5" font-size="9" text-anchor="end" transform="rotate(-29 325.4 154.5)">1000</text>
<text x="336.77" y="159.56" font-size="9" text-anchor="end" transform="rotate(-29 336.77 159.56)">500</text>
<text x="348.14" y="164.61" font-size="9" text-anchor="end" transform="rotate(-29 348.14 164.61)">250</text>
<text x="359.51" y="169.67" font-size="9" text-anchor="end" transform="rotate(-29 359.51 169.67)">125</text>
<text x="370.89" y="174.73" font-size="9" text-anchor="end" transform="rotate(-29 370.89 174.73)">62.5</text>
<text x="382.26" y="179.79" font-size="9" text-anchor="end" transform="rotate(-29 382.26 179.79)">31.25</text>
<text x="393.63" y="184.84" font-size="9" text-anchor="end" transform="rotate(-29 393.63 184.84)">15.63</text>
<text x="405" y="189.9" font-size="9" text-anchor="end" transform="rotate(-29 405 189.9)">0</text>
<text x="340" y="200" font-size="9" text-anchor="middle" transform="rotate(20 340 200)">Baloxavir (nM)</text>
<text x="443.88" y="183.44" font-size="9" text-anchor="start" transform="rotate(32 443.88 183.44)">625</text>
<text x="505.2" y="174.2" font-size="9" text-anchor="start" transform="rotate(32 505.2 174.2)">5000</text>
<text x="486.5" y="205" font-size="9" text-anchor="middle" transform="rotate(-11 486.5 205)">Zanamivir (nM)</text>
<text x="290.8" y="16.6" font-size="11.5" text-anchor="start" stroke-width="0">B</text></g>
<path d="M324.4 143L404 178.4L506.2 163M324.4 143L324.4 145.8M335.77 148.06L335.77 150.86M347.14 153.11L347.14 155.91M358.51 158.17L358.51 160.97M369.89 163.23L369.89 166.03M381.26 168.29L381.26 171.09M392.63 173.34L392.63 176.14M404 178.4L404 181.2M424.44 175.32L424.44 178.12M444.88 172.24L444.88 175.04M465.32 169.16L465.32 171.96M485.76 166.08L485.76 168.88M506.2 163L506.2 165.8" stroke="#2a2a2a" stroke-width="0.65" fill="none"/>
<rect x="516" y="61.6" width="33" height="43" fill="#fff" stroke="#1b3a57" stroke-width="1"/>
<rect x="518.3" y="64.1" width="3" height="3" fill="#15335c" stroke="#16324f" stroke-width="0.9"/>
<text x="523.3" y="67.94" font-size="6.5" text-anchor="start" fill="#14233f">25–30</text>
<rect x="518.3" y="71.18" width="3" height="3" fill="#1c4478" stroke="#16324f" stroke-width="0.9"/>
<text x="523.3" y="75.02" font-size="6.5" text-anchor="start" fill="#14233f">20–25</text>
<rect x="518.3" y="78.26" width="3" height="3" fill="#2a66b0" stroke="#16324f" stroke-width="0.9"/>
<text x="523.3" y="82.1" font-size="6.5" text-anchor="start" fill="#14233f">15–20</text>
<rect x="518.3" y="85.34" width="3" height="3" fill="#3f8fe0" stroke="#16324f" stroke-width="0.9"/>
<text x="523.3" y="89.18" font-size="6.5" text-anchor="start" fill="#14233f">10–15</text>
<rect x="518.3" y="92.42" width="3" height="3" fill="#7fc0f5" stroke="#16324f" stroke-width="0.9"/>
<text x="524.7" y="96.26" font-size="6.5" text-anchor="start" fill="#14233f">5–10</text>
<rect x="518.3" y="99.5" width="3" height="3" fill="#f7ea6a" stroke="#16324f" stroke-width="0.9"/>
<text x="524.2" y="103.34" font-size="6.5" text-anchor="start" fill="#14233f">0–5</text>
</g>
<g>
<defs><linearGradient id="g2l" x1="0" y1="0" x2="0" y2="1"><stop offset="0" stop-color="#e6e6e6"/><stop offset="1" stop-color="#d4d4d4"/></linearGradient><linearGradient id="g2d" x1="0" y1="0" x2="1" y2="0"><stop offset="0" stop-color="#707070"/><stop offset="1" stop-color="#666666"/></linearGradient></defs>
<polygon points="36.4,340 111,373 207.4,360 133,325.5" fill="#8a8a8a"/>
<polygon points="36.4,340 133,325.5 133,218 36.4,232" fill="url(#g2l)" stroke="#4a4a4a" stroke-width="0.6"/>
<polygon points="133,325.5 207.4,360 207.4,251 133,218" fill="url(#g2d)" stroke="#5a5a5a" stroke-width="0.5"/>
<path d="M36.4 313L133 298.62M36.4 286L133 271.75M36.4 259L133 244.88" stroke="#787878" stroke-width="0.55" fill="none"/>
<path d="M133 298.62L207.4 332.75M133 271.75L207.4 305.5M133 244.88L207.4 278.25" stroke="#9a9a9a" stroke-width="0.55" fill="none"/>
<polygon points="113.68,328.4 143.63,330.43 133,325.5" fill="#f1cb5e" stroke="#f1cb5e" stroke-width="0.8" stroke-linejoin="round"/>
<path d="M143.63 330.43L133 325.5M133 325.5L113.68 328.4" fill="none" stroke="#101820" stroke-opacity="0.9" stroke-width="0.55" stroke-linecap="round"/>
<polygon points="113.68,328.4 124.31,333.29 143.63,330.43" fill="#f1cb5e" stroke="#f1cb5e" stroke-width="0.8" stroke-linejoin="round"/>
<path d="M113.68 328.4L124.31 333.29M124.31 333.29L143.63 330.43" fill="none" stroke="#101820" stroke-opacity="0.9" stroke-width="0.55" stroke-linecap="round"/>
<polygon points="94.36,331.3 124.31,333.29 113.68,328.4" fill="#f1cb5e" stroke="#f1cb5e" stroke-width="0.8" stroke-linejoin="round"/>
<path d="M124.31 333.29L113.68 328.4M113.68 328.4L94.36 331.3" fill="none" stroke="#101820" stroke-opacity="0.9" stroke-width="0.55" stroke-linecap="round"/>
<polygon points="94.36,331.3 105,336.14 124.31,333.29" fill="#f1cb5e" stroke="#f1cb5e" stroke-width="0.8" stroke-linejoin="round"/>
<path d="M94.36 331.3L105 336.14M105 336.14L124.31 333.29" fill="none" stroke="#101820" stroke-opacity="0.9" stroke-width="0.55" stroke-linecap="round"/>
<polygon points="75.04,334.2 85.69,333.6 94.36,331.3" fill="#dbb652" stroke="#dbb652" stroke-width="0.8" stroke-linejoin="round"/>
<path d="M75.04 334.2L85.69 333.6M94.36 331.3L75.04 334.2" fill="none" stroke="#101820" stroke-opacity="0.9" stroke-width="0.55" stroke-linecap="round"/>
<polygon points="85.69,333.6 105,336.14 94.36,331.3" fill="#f9dd6f" stroke="#f9dd6f" stroke-width="0.8" stroke-linejoin="round"/>
<path d="M85.69 333.6L105 336.14M105 336.14L94.36 331.3" fill="none" stroke="#101820" stroke-opacity="0.9" stroke-width="0.55" stroke-linecap="round"/>
<polygon points="55.72,331.17 66.37,322.93 75.04,334.2" fill="#c8a649" stroke="#c8a649" stroke-width="0.8" stroke-linejoin="round"/>
<path d="M55.72 331.17L66.37 322.93M75.04 334.2L55.72 331.17" fill="none" stroke="#101820" stroke-opacity="0.9" stroke-width="0.55" stroke-linecap="round"/>
<polygon points="66.37,322.93 85.69,333.6 75.04,334.2" fill="#f2cd60" stroke="#f2cd60" stroke-width="0.8" stroke-linejoin="round"/>
<path d="M66.37 322.93L85.69 333.6M85.69 333.6L75.04 334.2" fill="none" stroke="#101820" stroke-opacity="0.9" stroke-width="0.55" stroke-linecap="round"/>
<polygon points="36.4,340 66.37,322.93 55.72,331.17" fill="#b2913d" stroke="#b2913d" stroke-width="0.8" stroke-linejoin="round"/>
<path d="M66.37 322.93L55.72 331.17M55.72 331.17L36.4 340" fill="none" stroke="#101820" stroke-opacity="0.9" stroke-width="0.55" stroke-linecap="round"/>
<polygon points="36.4,340 47.06,344.71 66.37,322.93" fill="#c09e45" stroke="#c09e45" stroke-width="0.8" stroke-linejoin="round"/>
<path d="M36.4 340L47.06 344.71M47.06 344.71L66.37 322.93" fill="none" stroke="#101820" stroke-opacity="0.9" stroke-width="0.55" stroke-linecap="round"/>
<polygon points="124.31,333.29 154.26,335.36 143.63,330.43" fill="#f1cb5e" stroke="#f1cb5e" stroke-width="0.8" stroke-linejoin="round"/>
<path d="M154.26 335.36L143.63 330.43M143.63 330.43L124.31 333.29" fill="none" stroke="#101820" stroke-opacity="0.9" stroke-width="0.55" stroke-linecap="round"/>
<polygon points="124.31,333.29 134.95,338.17 154.26,335.36" fill="#f1cb5e" stroke="#f1cb5e" stroke-width="0.8" stroke-linejoin="round"/>
<path d="M124.31 333.29L134.95 338.17M134.95 338.17L154.26 335.36" fill="none" stroke="#101820" stroke-opacity="0.9" stroke-width="0.55" stroke-linecap="round"/>
<polygon points="105,336.14 115.64,335.58 124.31,333.29" fill="#dbb652" stroke="#dbb652" stroke-width="0.8" stroke-linejoin="round"/>
<path d="M105 336.14L115.64 335.58M124.31 333.29L105 336.14" fill="none" stroke="#101820" stroke-opacity="0.9" stroke-width="0.55" stroke-linecap="round"/>
<polygon points="115.64,335.58 134.95,338.17 124.31,333.29" fill="#f9dd6f" stroke="#f9dd6f" stroke-width="0.8" stroke-linejoin="round"/>
<path d="M115.64 335.58L134.95 338.17M134.95 338.17L124.31 333.29" fill="none" stroke="#101820" stroke-opacity="0.9" stroke-width="0.55" stroke-linecap="round"/>
<polygon points="85.69,333.6 96.33,327.55 105,336.14" fill="#d0ac4d" stroke="#d0ac4d" stroke-width="0.8" stroke-linejoin="round"/>
<path d="M85.69 333.6L96.33 327.55M105 336.14L85.69 333.6" fill="none" stroke="#101820" stroke-opacity="0.9" stroke-width="0.55" stroke-linecap="round"/>
<polygon points="96.33,327.55 115.64,335.58 105,336.14" fill="#efc95d" stroke="#efc95d" stroke-width="0.8" stroke-linejoin="round"/>
<path d="M96.33 327.55L115.64 335.58M115.64 335.58L105 336.14" fill="none" stroke="#101820" stroke-opacity="0.9" stroke-width="0.55" stroke-linecap="round"/>
<polygon points="66.37,322.93 71.88,317.24 79.27,317.56 85.69,333.6" fill="#cba84b" stroke="#cba84b" stroke-width="0.8" stroke-linejoin="round"/>
<polygon points="71.88,317.24 77.02,311.91 79.27,317.56" fill="#8ea5bd" stroke="#8ea5bd" stroke-width="0.8" stroke-linejoin="round"/>
<path d="M71.88 317.24L79.27 317.56M79.27 317.56L71.88 317.24M66.37 322.93L77.02 311.91M85.69 333.6L66.37 322.93" fill="none" stroke="#101820" stroke-opacity="0.9" stroke-width="0.55" stroke-linecap="round"/>
<polygon points="84.97,318.36 96.33,327.55 85.69,333.6 79.27,317.56" fill="#e2be56" stroke="#e2be56" stroke-width="0.8" stroke-linejoin="round"/>
<polygon points="77.02,311.91 84.97,318.36 79.27,317.56" fill="#a4bcd5" stroke="#a4bcd5" stroke-width="0.8" stroke-linejoin="round"/>
<path d="M79.27 317.56L84.97 318.36M84.97 318.36L79.27 317.56M77.02 311.91L96.33 327.55M96.33 327.55L85.69 333.6" fill="none" stroke="#101820" stroke-opacity="0.9" stroke-width="0.55" stroke-linecap="round"/>
<polygon points="47.06,344.71 70.47,319.09 71.88,317.24 66.37,322.93" fill="#96782f" stroke="#96782f" stroke-width="0.8" stroke-linejoin="round"/>
<polygon points="70.47,319.09 77.02,311.91 71.88,317.24" fill="#5c6f87" stroke="#5c6f87" stroke-width="0.8" stroke-linejoin="round"/>
<path d="M70.47 319.09L71.88 317.24M71.88 317.24L70.47 319.09M77.02 311.91L66.37 322.93M66.37 322.93L47.06 344.71" fill="none" stroke="#101820" stroke-opacity="0.9" stroke-width="0.55" stroke-linecap="round"/>
<polygon points="47.06,344.71 57.71,349.43 72.8,320.11 70.47,319.09" fill="#a68638" stroke="#a68638" stroke-width="0.8" stroke-linejoin="round"/>
<polygon points="72.8,320.11 77.02,311.91 70.47,319.09" fill="#6b7f97" stroke="#6b7f97" stroke-width="0.8" stroke-linejoin="round"/>
<path d="M72.8 320.11L70.47 319.09M70.47 319.09L72.8 320.11M47.06 344.71L57.71 349.43M57.71 349.43L77.02 311.91" fill="none" stroke="#101820" stroke-opacity="0.9" stroke-width="0.55" stroke-linecap="round"/>
<polygon points="134.95,338.17 164.89,340.29 154.26,335.36" fill="#f1cb5e" stroke="#f1cb5e" stroke-width="0.8" stroke-linejoin="round"/>
<path d="M164.89 340.29L154.26 335.36M154.26 335.36L134.95 338.17" fill="none" stroke="#101820" stroke-opacity="0.9" stroke-width="0.55" stroke-linecap="round"/>
<polygon points="134.95,338.17 145.58,343.06 164.89,340.29" fill="#f1cb5e" stroke="#f1cb5e" stroke-width="0.8" stroke-linejoin="round"/>
<path d="M134.95 338.17L145.58 343.06M145.58 343.06L164.89 340.29" fill="none" stroke="#101820" stroke-opacity="0.9" stroke-width="0.55" stroke-linecap="round"/>
<polygon points="115.64,335.58 126.28,334.99 134.95,338.17" fill="#e6c158" stroke="#e6c158" stroke-width="0.8" stroke-linejoin="round"/>
<path d="M115.64 335.58L126.28 334.99M134.95 338.17L115.64 335.58" fill="none" stroke="#101820" stroke-opacity="0.9" stroke-width="0.55" stroke-linecap="round"/>
<polygon points="126.28,334.99 145.58,343.06 134.95,338.17" fill="#fee97a" stroke="#fee97a" stroke-width="0.8" stroke-linejoin="round"/>
<path d="M126.28 334.99L145.58 343.06M145.58 343.06L134.95 338.17" fill="none" stroke="#101820" stroke-opacity="0.9" stroke-width="0.55" stroke-linecap="round"/>
<polygon points="96.33,327.55 97.65,317.31 113.74,315.6 115.64,335.58" fill="#8c6e2a" stroke="#8c6e2a" stroke-width="0.8" stroke-linejoin="round"/>
<polygon points="97.65,317.31 100.93,291.66 111.35,290.58 113.74,315.6" fill="#52647c" stroke="#52647c" stroke-width="0.8" stroke-linejoin="round"/>
<polygon points="100.93,291.66 104.22,265.98 108.98,265.49 111.35,290.58" fill="#566a88" stroke="#566a88" stroke-width="0.8" stroke-linejoin="round"/>
<polygon points="104.22,265.98 106.98,244.37 108.98,265.49" fill="#163a66" stroke="#163a66" stroke-width="0.8" stroke-linejoin="round"/>
<path d="M97.65 317.31L113.74 315.6M100.93 291.66L111.35 290.58M113.74 315.6L97.65 317.31M104.22 265.98L108.98 265.49M111.35 290.58L100.93 291.66M108.98 265.49L104.22 265.98M96.33 327.55L106.98 244.37M115.64 335.58L96.33 327.55" fill="none" stroke="#101820" stroke-opacity="0.9" stroke-width="0.55" stroke-linecap="round"/>
<polygon points="122.91,319.2 126.28,334.99 115.64,335.58 113.74,315.6" fill="#f6d769" stroke="#f6d769" stroke-width="0.8" stroke-linejoin="round"/>
<polygon points="117.3,292.87 122.91,319.2 113.74,315.6 111.35,290.58" fill="#bdd5ed" stroke="#bdd5ed" stroke-width="0.8" stroke-linejoin="round"/>
<polygon points="111.69,266.52 117.3,292.87 111.35,290.58 108.98,265.49" fill="#9fc4e9" stroke="#9fc4e9" stroke-width="0.8" stroke-linejoin="round"/>
<polygon points="106.98,244.37 111.69,266.52 108.98,265.49" fill="#357eca" stroke="#357eca" stroke-width="0.8" stroke-linejoin="round"/>
<path d="M113.74 315.6L122.91 319.2M122.91 319.2L113.74 315.6M111.35 290.58L117.3 292.87M117.3 292.87L111.35 290.58M108.98 265.49L111.69 266.52M111.69 266.52L108.98 265.49M106.98 244.37L126.28 334.99M126.28 334.99L115.64 335.58" fill="none" stroke="#101820" stroke-opacity="0.9" stroke-width="0.55" stroke-linecap="round"/>
<polygon points="97.65,317.31 96.33,327.55 84.97,318.36" fill="#8c6e2a" stroke="#8c6e2a" stroke-width="0.8" stroke-linejoin="round"/>
<polygon points="77.02,311.91 85.45,292.92 100.93,291.66 97.65,317.31 84.97,318.36" fill="#52647c" stroke="#52647c" stroke-width="0.8" stroke-linejoin="round"/>
<polygon points="85.45,292.92 97.15,266.54 104.22,265.98 100.93,291.66" fill="#566a88" stroke="#566a88" stroke-width="0.8" stroke-linejoin="round"/>
<polygon points="97.15,266.54 106.98,244.37 104.22,265.98" fill="#163a66" stroke="#163a66" stroke-width="0.8" stroke-linejoin="round"/>
<path d="M84.97 318.36L97.65 317.31M85.45 292.92L100.93 291.66M97.65 317.31L84.97 318.36M97.15 266.54L104.22 265.98M100.93 291.66L85.45 292.92M104.22 265.98L97.15 266.54M106.98 244.37L96.33 327.55M96.33 327.55L77.02 311.91" fill="none" stroke="#101820" stroke-opacity="0.9" stroke-width="0.55" stroke-linecap="round"/>
<polygon points="79.35,320.53 87.67,351.37 92.7,323.48" fill="#a78738" stroke="#a78738" stroke-width="0.8" stroke-linejoin="round"/>
<polygon points="77.02,311.91 79.35,320.53 92.7,323.48 97.73,295.61 85.45,292.92" fill="#6b7f98" stroke="#6b7f98" stroke-width="0.8" stroke-linejoin="round"/>
<polygon points="97.73,295.61 102.75,267.75 97.15,266.54 85.45,292.92" fill="#677f9f" stroke="#677f9f" stroke-width="0.8" stroke-linejoin="round"/>
<polygon points="102.75,267.75 106.98,244.37 97.15,266.54" fill="#1d497d" stroke="#1d497d" stroke-width="0.8" stroke-linejoin="round"/>
<path d="M92.7 323.48L79.35 320.53M79.35 320.53L92.7 323.48M97.73 295.61L85.45 292.92M102.75 267.75L97.15 266.54M85.45 292.92L97.73 295.61M97.15 266.54L102.75 267.75M77.02 311.91L87.67 351.37M87.67 351.37L106.98 244.37" fill="none" stroke="#101820" stroke-opacity="0.9" stroke-width="0.55" stroke-linecap="round"/>
<polygon points="57.71,349.43 68.37,354.14 75.13,321.14 72.8,320.11" fill="#a68638" stroke="#a68638" stroke-width="0.8" stroke-linejoin="round"/>
<polygon points="75.13,321.14 77.02,311.91 72.8,320.11" fill="#6b7f97" stroke="#6b7f97" stroke-width="0.8" stroke-linejoin="round"/>
<path d="M75.13 321.14L72.8 320.11M72.8 320.11L75.13 321.14M57.71 349.43L68.37 354.14M77.02 311.91L57.71 349.43" fill="none" stroke="#101820" stroke-opacity="0.9" stroke-width="0.55" stroke-linecap="round"/>
<polygon points="68.37,354.14 87.67,351.37 79.35,320.53 75.13,321.14" fill="#ffec7d" stroke="#ffec7d" stroke-width="0.8" stroke-linejoin="round"/>
<polygon points="79.35,320.53 77.02,311.91 75.13,321.14" fill="#d2e8fd" stroke="#d2e8fd" stroke-width="0.8" stroke-linejoin="round"/>
<path d="M79.35 320.53L75.13 321.14M75.13 321.14L79.35 320.53M68.37 354.14L87.67 351.37M87.67 351.37L77.02 311.91" fill="none" stroke="#101820" stroke-opacity="0.9" stroke-width="0.55" stroke-linecap="round"/>
<polygon points="145.58,343.06 175.51,345.21 164.89,340.29" fill="#f1cb5e" stroke="#f1cb5e" stroke-width="0.8" stroke-linejoin="round"/>
<path d="M175.51 345.21L164.89 340.29M164.89 340.29L145.58 343.06" fill="none" stroke="#101820" stroke-opacity="0.9" stroke-width="0.55" stroke-linecap="round"/>
<polygon points="145.58,343.06 156.22,347.94 175.51,345.21" fill="#f1cb5e" stroke="#f1cb5e" stroke-width="0.8" stroke-linejoin="round"/>
<path d="M145.58 343.06L156.22 347.94M156.22 347.94L175.51 345.21" fill="none" stroke="#101820" stroke-opacity="0.9" stroke-width="0.55" stroke-linecap="round"/>
<polygon points="126.28,334.99 156.22,347.94 145.58,343.06" fill="#fee97a" stroke="#fee97a" stroke-width="0.8" stroke-linejoin="round"/>
<path d="M156.22 347.94L145.58 343.06M145.58 343.06L126.28 334.99" fill="none" stroke="#101820" stroke-opacity="0.9" stroke-width="0.55" stroke-linecap="round"/>
<polygon points="126.28,334.99 136.92,350.67 156.22,347.94" fill="#ffec7d" stroke="#ffec7d" stroke-width="0.8" stroke-linejoin="round"/>
<path d="M126.28 334.99L136.92 350.67M136.92 350.67L156.22 347.94" fill="none" stroke="#101820" stroke-opacity="0.9" stroke-width="0.55" stroke-linecap="round"/>
<polygon points="129.12,322.96 136.92,350.67 126.28,334.99 122.91,319.2" fill="#ffec7d" stroke="#ffec7d" stroke-width="0.8" stroke-linejoin="round"/>
<polygon points="121.33,295.27 129.12,322.96 122.91,319.2 117.3,292.87" fill="#d2e8fd" stroke="#d2e8fd" stroke-width="0.8" stroke-linejoin="round"/>
<polygon points="113.53,267.6 121.33,295.27 117.3,292.87 111.69,266.52" fill="#b0d5fa" stroke="#b0d5fa" stroke-width="0.8" stroke-linejoin="round"/>
<polygon points="106.98,244.37 113.53,267.6 111.69,266.52" fill="#3e90e2" stroke="#3e90e2" stroke-width="0.8" stroke-linejoin="round"/>
<path d="M122.91 319.2L129.12 322.96M129.12 322.96L122.91 319.2M117.3 292.87L121.33 295.27M121.33 295.27L117.3 292.87M111.69 266.52L113.53 267.6M113.53 267.6L111.69 266.52M136.92 350.67L126.28 334.99M126.28 334.99L106.98 244.37" fill="none" stroke="#101820" stroke-opacity="0.9" stroke-width="0.55" stroke-linecap="round"/>
<polygon points="114.85,324.96 117.62,353.4 136.92,350.67 129.12,322.96" fill="#fce576" stroke="#fce576" stroke-width="0.8" stroke-linejoin="round"/>
<polygon points="112.08,296.55 114.85,324.96 129.12,322.96 121.33,295.27" fill="#cbe2f8" stroke="#cbe2f8" stroke-width="0.8" stroke-linejoin="round"/>
<polygon points="109.31,268.18 112.08,296.55 121.33,295.27 113.53,267.6" fill="#aacff4" stroke="#aacff4" stroke-width="0.8" stroke-linejoin="round"/>
<polygon points="106.98,244.37 109.31,268.18 113.53,267.6" fill="#3b8ada" stroke="#3b8ada" stroke-width="0.8" stroke-linejoin="round"/>
<path d="M129.12 322.96L114.85 324.96M114.85 324.96L129.12 322.96M121.33 295.27L112.08 296.55M112.08 296.55L121.33 295.27M113.53 267.6L109.31 268.18M109.31 268.18L113.53 267.6M106.98 244.37L117.62 353.4M117.62 353.4L136.92 350.67" fill="none" stroke="#101820" stroke-opacity="0.9" stroke-width="0.55" stroke-linecap="round"/>
<polygon points="87.67,351.37 98.33,356.13 100.58,326.96 92.7,323.48" fill="#8c6e2a" stroke="#8c6e2a" stroke-width="0.8" stroke-linejoin="round"/>
<polygon points="100.58,326.96 102.83,297.83 97.73,295.61 92.7,323.48" fill="#52647c" stroke="#52647c" stroke-width="0.8" stroke-linejoin="round"/>
<polygon points="102.83,297.83 105.08,268.76 102.75,267.75 97.73,295.61" fill="#566a88" stroke="#566a88" stroke-width="0.8" stroke-linejoin="round"/>
<polygon points="105.08,268.76 106.98,244.37 102.75,267.75" fill="#163a66" stroke="#163a66" stroke-width="0.8" stroke-linejoin="round"/>
<path d="M100.58 326.96L92.7 323.48M102.83 297.83L97.73 295.61M92.7 323.48L100.58 326.96M105.08 268.76L102.75 267.75M97.73 295.61L102.83 297.83M102.75 267.75L105.08 268.76M87.67 351.37L98.33 356.13M106.98 244.37L87.67 351.37" fill="none" stroke="#101820" stroke-opacity="0.9" stroke-width="0.55" stroke-linecap="round"/>
<polygon points="98.33,356.13 117.62,353.4 114.85,324.96 100.58,326.96" fill="#fce576" stroke="#fce576" stroke-width="0.8" stroke-linejoin="round"/>
<polygon points="114.85,324.96 112.08,296.55 102.83,297.83 100.58,326.96" fill="#cbe2f8" stroke="#cbe2f8" stroke-width="0.8" stroke-linejoin="round"/>
<polygon points="112.08,296.55 109.31,268.18 105.08,268.76 102.83,297.83" fill="#aacff4" stroke="#aacff4" stroke-width="0.8" stroke-linejoin="round"/>
<polygon points="109.31,268.18 106.98,244.37 105.08,268.76" fill="#3b8ada" stroke="#3b8ada" stroke-width="0.8" stroke-linejoin="round"/>
<path d="M114.85 324.96L100.58 326.96M112.08 296.55L102.83 297.83M100.58 326.96L114.85 324.96M109.31 268.18L105.08 268.76M102.83 297.83L112.08 296.55M105.08 268.76L109.31 268.18M98.33 356.13L117.62 353.4M117.62 353.4L106.98 244.37" fill="none" stroke="#101820" stroke-opacity="0.9" stroke-width="0.55" stroke-linecap="round"/>
<polygon points="68.37,354.14 98.33,356.13 87.67,351.37" fill="#f1cb5e" stroke="#f1cb5e" stroke-width="0.8" stroke-linejoin="round"/>
<path d="M98.33 356.13L87.67 351.37M87.67 351.37L68.37 354.14" fill="none" stroke="#101820" stroke-opacity="0.9" stroke-width="0.55" stroke-linecap="round"/>
<polygon points="68.37,354.14 79.03,358.86 98.33,356.13" fill="#f1cb5e" stroke="#f1cb5e" stroke-width="0.8" stroke-linejoin="round"/>
<path d="M68.37 354.14L79.03 358.86M79.03 358.86L98.33 356.13" fill="none" stroke="#101820" stroke-opacity="0.9" stroke-width="0.55" stroke-linecap="round"/>
<polygon points="156.22,347.94 186.14,350.14 175.51,345.21" fill="#f1cb5e" stroke="#f1cb5e" stroke-width="0.8" stroke-linejoin="round"/>
<path d="M186.14 350.14L175.51 345.21M175.51 345.21L156.22 347.94" fill="none" stroke="#101820" stroke-opacity="0.9" stroke-width="0.55" stroke-linecap="round"/>
<polygon points="156.22,347.94 166.85,352.83 186.14,350.14" fill="#f1cb5e" stroke="#f1cb5e" stroke-width="0.8" stroke-linejoin="round"/>
<path d="M156.22 347.94L166.85 352.83M166.85 352.83L186.14 350.14" fill="none" stroke="#101820" stroke-opacity="0.9" stroke-width="0.55" stroke-linecap="round"/>
<polygon points="136.92,350.67 166.85,352.83 156.22,347.94" fill="#f1cb5e" stroke="#f1cb5e" stroke-width="0.8" stroke-linejoin="round"/>
<path d="M166.85 352.83L156.22 347.94M156.22 347.94L136.92 350.67" fill="none" stroke="#101820" stroke-opacity="0.9" stroke-width="0.55" stroke-linecap="round"/>
<polygon points="136.92,350.67 147.56,355.51 166.85,352.83" fill="#f1cb5e" stroke="#f1cb5e" stroke-width="0.8" stroke-linejoin="round"/>
<path d="M136.92 350.67L147.56 355.51M147.56 355.51L166.85 352.83" fill="none" stroke="#101820" stroke-opacity="0.9" stroke-width="0.55" stroke-linecap="round"/>
<polygon points="117.62,353.4 147.56,355.51 136.92,350.67" fill="#f1cb5e" stroke="#f1cb5e" stroke-width="0.8" stroke-linejoin="round"/>
<path d="M147.56 355.51L136.92 350.67M136.92 350.67L117.62 353.4" fill="none" stroke="#101820" stroke-opacity="0.9" stroke-width="0.55" stroke-linecap="round"/>
<polygon points="117.62,353.4 128.27,358.2 147.56,355.51" fill="#f1cb5e" stroke="#f1cb5e" stroke-width="0.8" stroke-linejoin="round"/>
<path d="M117.62 353.4L128.27 358.2M128.27 358.2L147.56 355.51" fill="none" stroke="#101820" stroke-opacity="0.9" stroke-width="0.55" stroke-linecap="round"/>
<polygon points="98.33,356.13 128.27,358.2 117.62,353.4" fill="#f1cb5e" stroke="#f1cb5e" stroke-width="0.8" stroke-linejoin="round"/>
<path d="M128.27 358.2L117.62 353.4M117.62 353.4L98.33 356.13" fill="none" stroke="#101820" stroke-opacity="0.9" stroke-width="0.55" stroke-linecap="round"/>
<polygon points="98.33,356.13 108.98,360.89 128.27,358.2" fill="#f1cb5e" stroke="#f1cb5e" stroke-width="0.8" stroke-linejoin="round"/>
<path d="M98.33 356.13L108.98 360.89M108.98 360.89L128.27 358.2" fill="none" stroke="#101820" stroke-opacity="0.9" stroke-width="0.55" stroke-linecap="round"/>
<polygon points="79.03,358.86 108.98,360.89 98.33,356.13" fill="#f1cb5e" stroke="#f1cb5e" stroke-width="0.8" stroke-linejoin="round"/>
<path d="M108.98 360.89L98.33 356.13M98.33 356.13L79.03 358.86" fill="none" stroke="#101820" stroke-opacity="0.9" stroke-width="0.55" stroke-linecap="round"/>
<polygon points="79.03,358.86 89.69,363.57 108.98,360.89" fill="#f1cb5e" stroke="#f1cb5e" stroke-width="0.8" stroke-linejoin="round"/>
<path d="M79.03 358.86L89.69 363.57M89.69 363.57L108.98 360.89" fill="none" stroke="#101820" stroke-opacity="0.9" stroke-width="0.55" stroke-linecap="round"/>
<polygon points="166.85,352.83 196.77,355.07 186.14,350.14" fill="#f1cb5e" stroke="#f1cb5e" stroke-width="0.8" stroke-linejoin="round"/>
<path d="M196.77 355.07L186.14 350.14M186.14 350.14L166.85 352.83" fill="none" stroke="#101820" stroke-opacity="0.9" stroke-width="0.55" stroke-linecap="round"/>
<polygon points="166.85,352.83 177.49,357.71 196.77,355.07" fill="#f1cb5e" stroke="#f1cb5e" stroke-width="0.8" stroke-linejoin="round"/>
<path d="M166.85 352.83L177.49 357.71M177.49 357.71L196.77 355.07" fill="none" stroke="#101820" stroke-opacity="0.9" stroke-width="0.55" stroke-linecap="round"/>
<polygon points="147.56,355.51 177.49,357.71 166.85,352.83" fill="#f1cb5e" stroke="#f1cb5e" stroke-width="0.8" stroke-linejoin="round"/>
<path d="M177.49 357.71L166.85 352.83M166.85 352.83L147.56 355.51" fill="none" stroke="#101820" stroke-opacity="0.9" stroke-width="0.55" stroke-linecap="round"/>
<polygon points="147.56,355.51 158.2,360.36 177.49,357.71" fill="#f1cb5e" stroke="#f1cb5e" stroke-width="0.8" stroke-linejoin="round"/>
<path d="M147.56 355.51L158.2 360.36M158.2 360.36L177.49 357.71" fill="none" stroke="#101820" stroke-opacity="0.9" stroke-width="0.55" stroke-linecap="round"/>
<polygon points="128.27,358.2 138.91,337.85 147.56,355.51" fill="#a08034" stroke="#a08034" stroke-width="0.8" stroke-linejoin="round"/>
<path d="M128.27 358.2L138.91 337.85M147.56 355.51L128.27 358.2" fill="none" stroke="#101820" stroke-opacity="0.9" stroke-width="0.55" stroke-linecap="round"/>
<polygon points="138.91,337.85 158.2,360.36 147.56,355.51" fill="#ffec7d" stroke="#ffec7d" stroke-width="0.8" stroke-linejoin="round"/>
<path d="M138.91 337.85L158.2 360.36M158.2 360.36L147.56 355.51" fill="none" stroke="#101820" stroke-opacity="0.9" stroke-width="0.55" stroke-linecap="round"/>
<polygon points="108.98,360.89 138.91,337.85 128.27,358.2" fill="#a08034" stroke="#a08034" stroke-width="0.8" stroke-linejoin="round"/>
<path d="M138.91 337.85L128.27 358.2M128.27 358.2L108.98 360.89" fill="none" stroke="#101820" stroke-opacity="0.9" stroke-width="0.55" stroke-linecap="round"/>
<polygon points="108.98,360.89 119.63,365.64 138.91,337.85" fill="#b4933f" stroke="#b4933f" stroke-width="0.8" stroke-linejoin="round"/>
<path d="M108.98 360.89L119.63 365.64M119.63 365.64L138.91 337.85" fill="none" stroke="#101820" stroke-opacity="0.9" stroke-width="0.55" stroke-linecap="round"/>
<polygon points="89.69,363.57 119.63,365.64 108.98,360.89" fill="#f1cb5e" stroke="#f1cb5e" stroke-width="0.8" stroke-linejoin="round"/>
<path d="M119.63 365.64L108.98 360.89M108.98 360.89L89.69 363.57" fill="none" stroke="#101820" stroke-opacity="0.9" stroke-width="0.55" stroke-linecap="round"/>
<polygon points="89.69,363.57 100.34,368.29 119.63,365.64" fill="#f1cb5e" stroke="#f1cb5e" stroke-width="0.8" stroke-linejoin="round"/>
<path d="M89.69 363.57L100.34 368.29M100.34 368.29L119.63 365.64" fill="none" stroke="#101820" stroke-opacity="0.9" stroke-width="0.55" stroke-linecap="round"/>
<polygon points="177.49,357.71 207.4,360 196.77,355.07" fill="#f1cb5e" stroke="#f1cb5e" stroke-width="0.8" stroke-linejoin="round"/>
<path d="M207.4 360L196.77 355.07M196.77 355.07L177.49 357.71" fill="none" stroke="#101820" stroke-opacity="0.9" stroke-width="0.55" stroke-linecap="round"/>
<polygon points="177.49,357.71 188.12,362.6 207.4,360" fill="#f1cb5e" stroke="#f1cb5e" stroke-width="0.8" stroke-linejoin="round"/>
<path d="M177.49 357.71L188.12 362.6M188.12 362.6L207.4 360" fill="none" stroke="#101820" stroke-opacity="0.9" stroke-width="0.55" stroke-linecap="round"/>
<polygon points="158.2,360.36 188.12,362.6 177.49,357.71" fill="#f1cb5e" stroke="#f1cb5e" stroke-width="0.8" stroke-linejoin="round"/>
<path d="M188.12 362.6L177.49 357.71M177.49 357.71L158.2 360.36" fill="none" stroke="#101820" stroke-opacity="0.9" stroke-width="0.55" stroke-linecap="round"/>
<polygon points="158.2,360.36 168.84,365.2 188.12,362.6" fill="#f1cb5e" stroke="#f1cb5e" stroke-width="0.8" stroke-linejoin="round"/>
<path d="M158.2 360.36L168.84 365.2M168.84 365.2L188.12 362.6" fill="none" stroke="#101820" stroke-opacity="0.9" stroke-width="0.55" stroke-linecap="round"/>
<polygon points="138.91,337.85 168.84,365.2 158.2,360.36" fill="#ffec7d" stroke="#ffec7d" stroke-width="0.8" stroke-linejoin="round"/>
<path d="M168.84 365.2L158.2 360.36M158.2 360.36L138.91 337.85" fill="none" stroke="#101820" stroke-opacity="0.9" stroke-width="0.55" stroke-linecap="round"/>
<polygon points="138.91,337.85 149.56,367.8 168.84,365.2" fill="#ffec7d" stroke="#ffec7d" stroke-width="0.8" stroke-linejoin="round"/>
<path d="M138.91 337.85L149.56 367.8M149.56 367.8L168.84 365.2" fill="none" stroke="#101820" stroke-opacity="0.9" stroke-width="0.55" stroke-linecap="round"/>
<polygon points="119.63,365.64 130.28,370.4 138.91,337.85" fill="#b4933f" stroke="#b4933f" stroke-width="0.8" stroke-linejoin="round"/>
<path d="M119.63 365.64L130.28 370.4M138.91 337.85L119.63 365.64" fill="none" stroke="#101820" stroke-opacity="0.9" stroke-width="0.55" stroke-linecap="round"/>
<polygon points="130.28,370.4 149.56,367.8 138.91,337.85" fill="#ffec7d" stroke="#ffec7d" stroke-width="0.8" stroke-linejoin="round"/>
<path d="M130.28 370.4L149.56 367.8M149.56 367.8L138.91 337.85" fill="none" stroke="#101820" stroke-opacity="0.9" stroke-width="0.55" stroke-linecap="round"/>
<polygon points="100.34,368.29 130.28,370.4 119.63,365.64" fill="#f1cb5e" stroke="#f1cb5e" stroke-width="0.8" stroke-linejoin="round"/>
<path d="M130.28 370.4L119.63 365.64M119.63 365.64L100.34 368.29" fill="none" stroke="#101820" stroke-opacity="0.9" stroke-width="0.55" stroke-linecap="round"/>
<polygon points="100.34,368.29 111,373 130.28,370.4" fill="#f1cb5e" stroke="#f1cb5e" stroke-width="0.8" stroke-linejoin="round"/>
<path d="M100.34 368.29L111 373M111 373L130.28 370.4" fill="none" stroke="#101820" stroke-opacity="0.9" stroke-width="0.55" stroke-linecap="round"/>
<g stroke="#000" stroke-width="0.18"><text x="28.4" y="343.13" font-size="8.7" text-anchor="end">0</text>
<text x="28.4" y="316.13" font-size="8.7" text-anchor="end">5</text>
<text x="28.4" y="289.13" font-size="8.7" text-anchor="end">10</text>
<text x="28.4" y="262.13" font-size="8.7" text-anchor="end">15</text>
<text x="28.4" y="235.13" font-size="8.7" text-anchor="end">20</text>
<text x="14" y="299" font-size="8.6" text-anchor="middle" transform="rotate(-90 14 299)">Inhibition from expected</text>
<text x="37.4" y="351.5" font-size="8.7" text-anchor="end" transform="rotate(-29 37.4 351.5)">1000</text>
<text x="48.06" y="356.21" font-size="8.7" text-anchor="end" transform="rotate(-29 48.06 356.21)">500</text>
<text x="58.71" y="360.93" font-size="8.7" text-anchor="end" transform="rotate(-29 58.71 360.93)">250</text>
<text x="69.37" y="365.64" font-size="8.7" text-anchor="end" transform="rotate(-29 69.37 365.64)">125</text>
<text x="80.03" y="370.36" font-size="8.7" text-anchor="end" transform="rotate(-29 80.03 370.36)">62.5</text>
<text x="90.69" y="375.07" font-size="8.7" text-anchor="end" transform="rotate(-29 90.69 375.07)">31.25</text>
<text x="101.34" y="379.79" font-size="8.7" text-anchor="end" transform="rotate(-29 101.34 379.79)">15.63</text>
<text x="112" y="384.5" font-size="8.7" text-anchor="end" transform="rotate(-29 112 384.5)">0</text>
<text x="51" y="392" font-size="8.7" text-anchor="middle" transform="rotate(22 51 392)">Baloxavir (nM)</text>
<text x="148.56" y="379" font-size="8.7" text-anchor="start" transform="rotate(32 148.56 379)">125</text>
<text x="206.4" y="371.2" font-size="8.7" text-anchor="start" transform="rotate(32 206.4 371.2)">1000</text>
<text x="154.4" y="402.8" font-size="8.7" transform="rotate(-10.4 154.4 402.8)">Laninamivir <tspan font-size="11" dx="2.4">(nM)</tspan></text>
<text x="4.6" y="225" font-size="11.5" text-anchor="start" stroke-width="0">C</text></g>
<path d="M36.4 340L111 373L207.4 360M36.4 340L36.4 342.8M47.06 344.71L47.06 347.51M57.71 349.43L57.71 352.23M68.37 354.14L68.37 356.94M79.03 358.86L79.03 361.66M89.69 363.57L89.69 366.37M100.34 368.29L100.34 371.09M111 373L111 375.8M130.28 370.4L130.28 373.2M149.56 367.8L149.56 370.6M168.84 365.2L168.84 368M188.12 362.6L188.12 365.4M207.4 360L207.4 362.8" stroke="#2a2a2a" stroke-width="0.65" fill="none"/>
<rect x="214.4" y="276.4" width="29" height="43.6" fill="#fff" stroke="#1b3a57" stroke-width="1"/>
<rect x="216.7" y="281.5" width="3" height="3" fill="#2a66b0" stroke="#16324f" stroke-width="0.9"/>
<text x="221.7" y="285.34" font-size="6.5" text-anchor="start" fill="#14233f">15–20</text>
<rect x="216.7" y="292" width="3" height="3" fill="#3f8fe0" stroke="#16324f" stroke-width="0.9"/>
<text x="221.7" y="295.84" font-size="6.5" text-anchor="start" fill="#14233f">10–15</text>
<rect x="216.7" y="302.5" width="3" height="3" fill="#7fc0f5" stroke="#16324f" stroke-width="0.9"/>
<text x="223.1" y="306.34" font-size="6.5" text-anchor="start" fill="#14233f">5–10</text>
<rect x="216.7" y="313" width="3" height="3" fill="#f7ea6a" stroke="#16324f" stroke-width="0.9"/>
<text x="222.6" y="316.84" font-size="6.5" text-anchor="start" fill="#14233f">0–5</text>
</g>
<g>
<defs><linearGradient id="g3l" x1="0" y1="0" x2="0" y2="1"><stop offset="0" stop-color="#e6e6e6"/><stop offset="1" stop-color="#d4d4d4"/></linearGradient><linearGradient id="g3d" x1="0" y1="0" x2="1" y2="0"><stop offset="0" stop-color="#707070"/><stop offset="1" stop-color="#666666"/></linearGradient></defs>
<polygon points="337,345 411,377.4 505,365 431.4,332" fill="#8a8a8a"/>
<polygon points="337,345 431.4,332 431.4,225.4 337,240" fill="url(#g3l)" stroke="#4a4a4a" stroke-width="0.6"/>
<polygon points="431.4,332 505,365 505,258 431.4,225.4" fill="url(#g3d)" stroke="#5a5a5a" stroke-width="0.5"/>
<path d="M337 310L431.4 296.47M337 275L431.4 260.93" stroke="#787878" stroke-width="0.55" fill="none"/>
<path d="M431.4 296.47L505 329.33M431.4 260.93L505 293.67" stroke="#9a9a9a" stroke-width="0.55" fill="none"/>
<polygon points="412.52,306.26 419.1,302.08 426.38,300.89 431.4,302.86" fill="#c19f45" stroke="#c19f45" stroke-width="0.8" stroke-linejoin="round"/>
<polygon points="419.1,302.08 423.05,299.56 426.38,300.89" fill="#849ab2" stroke="#849ab2" stroke-width="0.8" stroke-linejoin="round"/>
<path d="M419.1 302.08L426.38 300.89M426.38 300.89L419.1 302.08M412.52 306.26L423.05 299.56M431.4 302.86L412.52 306.26" fill="none" stroke="#101820" stroke-opacity="0.9" stroke-width="0.55" stroke-linecap="round"/>
<polygon points="425.4,303.49 441.91,331.03 431.4,302.86 426.38,300.89" fill="#ffec7d" stroke="#ffec7d" stroke-width="0.8" stroke-linejoin="round"/>
<polygon points="423.05,299.56 425.4,303.49 426.38,300.89" fill="#d2e8fd" stroke="#d2e8fd" stroke-width="0.8" stroke-linejoin="round"/>
<path d="M426.38 300.89L425.4 303.49M425.4 303.49L426.38 300.89M423.05 299.56L441.91 331.03M441.91 331.03L431.4 302.86" fill="none" stroke="#101820" stroke-opacity="0.9" stroke-width="0.55" stroke-linecap="round"/>
<polygon points="419.1,302.08 412.52,306.26 407.55,299.89" fill="#e7c259" stroke="#e7c259" stroke-width="0.8" stroke-linejoin="round"/>
<polygon points="393.64,282.1 423.05,299.56 419.1,302.08 407.55,299.89" fill="#a9c1da" stroke="#a9c1da" stroke-width="0.8" stroke-linejoin="round"/>
<path d="M407.55 299.89L419.1 302.08M419.1 302.08L407.55 299.89M423.05 299.56L412.52 306.26M412.52 306.26L393.64 282.1" fill="none" stroke="#101820" stroke-opacity="0.9" stroke-width="0.55" stroke-linecap="round"/>
<polygon points="402.58,305.78 404.18,310.01 412.75,305.27" fill="#fde678" stroke="#fde678" stroke-width="0.8" stroke-linejoin="round"/>
<polygon points="393.64,282.1 402.58,305.78 412.75,305.27 423.05,299.56" fill="#cce3f9" stroke="#cce3f9" stroke-width="0.8" stroke-linejoin="round"/>
<path d="M412.75 305.27L402.58 305.78M402.58 305.78L412.75 305.27M393.64 282.1L404.18 310.01M404.18 310.01L423.05 299.56" fill="none" stroke="#101820" stroke-opacity="0.9" stroke-width="0.55" stroke-linecap="round"/>
<polygon points="374.76,284.16 385.31,309.13 393.64,282.1" fill="#d2e8fd" stroke="#d2e8fd" stroke-width="0.8" stroke-linejoin="round"/>
<path d="M374.76 284.16L385.31 309.13M393.64 282.1L374.76 284.16" fill="none" stroke="#101820" stroke-opacity="0.9" stroke-width="0.55" stroke-linecap="round"/>
<polygon points="385.31,309.13 404.18,310.01 402.58,305.78 385.31,309.13" fill="#ffec7d" stroke="#ffec7d" stroke-width="0.8" stroke-linejoin="round"/>
<polygon points="385.31,309.13 385.31,309.13 402.58,305.78 393.64,282.1" fill="#d2e8fd" stroke="#d2e8fd" stroke-width="0.8" stroke-linejoin="round"/>
<path d="M402.58 305.78L385.31 309.13M385.31 309.13L385.31 309.13M385.31 309.13L385.31 309.13M385.31 309.13L402.58 305.78M385.31 309.13L404.18 310.01M404.18 310.01L393.64 282.1" fill="none" stroke="#101820" stroke-opacity="0.9" stroke-width="0.55" stroke-linecap="round"/>
<polygon points="355.88,331.17 366.44,322.36 369.27,309.34 366.07,305.83" fill="#8c6e2a" stroke="#8c6e2a" stroke-width="0.8" stroke-linejoin="round"/>
<polygon points="369.27,309.34 374.76,284.16 366.07,305.83" fill="#52647c" stroke="#52647c" stroke-width="0.8" stroke-linejoin="round"/>
<path d="M369.27 309.34L366.07 305.83M366.07 305.83L369.27 309.34M355.88 331.17L366.44 322.36M374.76 284.16L355.88 331.17" fill="none" stroke="#101820" stroke-opacity="0.9" stroke-width="0.55" stroke-linecap="round"/>
<polygon points="366.44,322.36 385.31,309.13 385.31,309.13 369.27,309.34" fill="#f8dc6e" stroke="#f8dc6e" stroke-width="0.8" stroke-linejoin="round"/>
<polygon points="385.31,309.13 385.31,309.13 374.76,284.16 369.27,309.34" fill="#c2daf1" stroke="#c2daf1" stroke-width="0.8" stroke-linejoin="round"/>
<path d="M385.31 309.13L385.31 309.13M385.31 309.13L369.27 309.34M385.31 309.13L385.31 309.13M369.27 309.34L385.31 309.13M366.44 322.36L385.31 309.13M385.31 309.13L374.76 284.16" fill="none" stroke="#101820" stroke-opacity="0.9" stroke-width="0.55" stroke-linecap="round"/>
<polygon points="337,345 366.44,322.36 355.88,331.17" fill="#a58537" stroke="#a58537" stroke-width="0.8" stroke-linejoin="round"/>
<path d="M366.44 322.36L355.88 331.17M355.88 331.17L337 345" fill="none" stroke="#101820" stroke-opacity="0.9" stroke-width="0.55" stroke-linecap="round"/>
<polygon points="337,345 347.57,349.63 366.44,322.36" fill="#b4933e" stroke="#b4933e" stroke-width="0.8" stroke-linejoin="round"/>
<path d="M337 345L347.57 349.63M347.57 349.63L366.44 322.36" fill="none" stroke="#101820" stroke-opacity="0.9" stroke-width="0.55" stroke-linecap="round"/>
<polygon points="426.28,304.04 452.43,340.36 441.91,331.03 425.4,303.49" fill="#ffec7d" stroke="#ffec7d" stroke-width="0.8" stroke-linejoin="round"/>
<polygon points="423.05,299.56 426.28,304.04 425.4,303.49" fill="#d2e8fd" stroke="#d2e8fd" stroke-width="0.8" stroke-linejoin="round"/>
<path d="M425.4 303.49L426.28 304.04M426.28 304.04L425.4 303.49M452.43 340.36L441.91 331.03M441.91 331.03L423.05 299.56" fill="none" stroke="#101820" stroke-opacity="0.9" stroke-width="0.55" stroke-linecap="round"/>
<polygon points="425.08,304.72 433.57,326.23 452.43,340.36 426.28,304.04" fill="#ffec7d" stroke="#ffec7d" stroke-width="0.8" stroke-linejoin="round"/>
<polygon points="423.05,299.56 425.08,304.72 426.28,304.04" fill="#d2e8fd" stroke="#d2e8fd" stroke-width="0.8" stroke-linejoin="round"/>
<path d="M426.28 304.04L425.08 304.72M425.08 304.72L426.28 304.04M423.05 299.56L433.57 326.23M433.57 326.23L452.43 340.36" fill="none" stroke="#101820" stroke-opacity="0.9" stroke-width="0.55" stroke-linecap="round"/>
<polygon points="404.18,310.01 414.71,314.61 418.5,307.78 412.75,305.27" fill="#dcb853" stroke="#dcb853" stroke-width="0.8" stroke-linejoin="round"/>
<polygon points="418.5,307.78 423.05,299.56 412.75,305.27" fill="#9eb5ce" stroke="#9eb5ce" stroke-width="0.8" stroke-linejoin="round"/>
<path d="M418.5 307.78L412.75 305.27M412.75 305.27L418.5 307.78M404.18 310.01L414.71 314.61M423.05 299.56L404.18 310.01" fill="none" stroke="#101820" stroke-opacity="0.9" stroke-width="0.55" stroke-linecap="round"/>
<polygon points="414.71,314.61 433.57,326.23 425.08,304.72 418.5,307.78" fill="#ffec7d" stroke="#ffec7d" stroke-width="0.8" stroke-linejoin="round"/>
<polygon points="425.08,304.72 423.05,299.56 418.5,307.78" fill="#d2e8fd" stroke="#d2e8fd" stroke-width="0.8" stroke-linejoin="round"/>
<path d="M425.08 304.72L418.5 307.78M418.5 307.78L425.08 304.72M414.71 314.61L433.57 326.23M433.57 326.23L423.05 299.56" fill="none" stroke="#101820" stroke-opacity="0.9" stroke-width="0.55" stroke-linecap="round"/>
<polygon points="385.31,309.13 385.31,309.13 402.69,307.76 404.18,310.01" fill="#b89741" stroke="#b89741" stroke-width="0.8" stroke-linejoin="round"/>
<polygon points="385.31,309.13 395.86,297.36 402.69,307.76 385.31,309.13" fill="#7c91aa" stroke="#7c91aa" stroke-width="0.8" stroke-linejoin="round"/>
<path d="M385.31 309.13L385.31 309.13M385.31 309.13L402.69 307.76M402.69 307.76L385.31 309.13M385.31 309.13L385.31 309.13M385.31 309.13L395.86 297.36M404.18 310.01L385.31 309.13" fill="none" stroke="#101820" stroke-opacity="0.9" stroke-width="0.55" stroke-linecap="round"/>
<polygon points="411.35,311.53 414.71,314.61 404.18,310.01 402.69,307.76" fill="#ffec7d" stroke="#ffec7d" stroke-width="0.8" stroke-linejoin="round"/>
<polygon points="395.86,297.36 411.35,311.53 402.69,307.76" fill="#d2e8fd" stroke="#d2e8fd" stroke-width="0.8" stroke-linejoin="round"/>
<path d="M402.69 307.76L411.35 311.53M411.35 311.53L402.69 307.76M395.86 297.36L414.71 314.61M414.71 314.61L404.18 310.01" fill="none" stroke="#101820" stroke-opacity="0.9" stroke-width="0.55" stroke-linecap="round"/>
<polygon points="366.44,322.36 378.05,312.51 385.31,309.13 385.31,309.13" fill="#a08034" stroke="#a08034" stroke-width="0.8" stroke-linejoin="round"/>
<polygon points="378.05,312.51 395.86,297.36 385.31,309.13 385.31,309.13" fill="#657890" stroke="#657890" stroke-width="0.8" stroke-linejoin="round"/>
<path d="M378.05 312.51L385.31 309.13M385.31 309.13L385.31 309.13M385.31 309.13L385.31 309.13M385.31 309.13L378.05 312.51M395.86 297.36L385.31 309.13M385.31 309.13L366.44 322.36" fill="none" stroke="#101820" stroke-opacity="0.9" stroke-width="0.55" stroke-linecap="round"/>
<polygon points="366.44,322.36 375.24,315.52 378.05,312.51" fill="#a38336" stroke="#a38336" stroke-width="0.8" stroke-linejoin="round"/>
<polygon points="375.24,315.52 377,314.15 395.86,297.36 378.05,312.51" fill="#677b93" stroke="#677b93" stroke-width="0.8" stroke-linejoin="round"/>
<path d="M375.24 315.52L378.05 312.51M378.05 312.51L375.24 315.52M366.44 322.36L377 314.15M377 314.15L395.86 297.36" fill="none" stroke="#101820" stroke-opacity="0.9" stroke-width="0.55" stroke-linecap="round"/>
<polygon points="347.57,349.63 375.33,316.17 375.24,315.52 366.44,322.36" fill="#95762e" stroke="#95762e" stroke-width="0.8" stroke-linejoin="round"/>
<polygon points="375.33,316.17 377,314.15 375.24,315.52" fill="#5a6d85" stroke="#5a6d85" stroke-width="0.8" stroke-linejoin="round"/>
<path d="M375.33 316.17L375.24 315.52M375.24 315.52L375.33 316.17M377 314.15L366.44 322.36M366.44 322.36L347.57 349.63" fill="none" stroke="#101820" stroke-opacity="0.9" stroke-width="0.55" stroke-linecap="round"/>
<polygon points="347.57,349.63 358.14,354.26 375.93,316.42 375.33,316.17" fill="#a28335" stroke="#a28335" stroke-width="0.8" stroke-linejoin="round"/>
<polygon points="375.93,316.42 377,314.15 375.33,316.17" fill="#677b93" stroke="#677b93" stroke-width="0.8" stroke-linejoin="round"/>
<path d="M375.93 316.42L375.33 316.17M375.33 316.17L375.93 316.42M347.57 349.63L358.14 354.26M358.14 354.26L377 314.15" fill="none" stroke="#101820" stroke-opacity="0.9" stroke-width="0.55" stroke-linecap="round"/>
<polygon points="433.57,326.23 462.94,346.14 452.43,340.36" fill="#ffec7d" stroke="#ffec7d" stroke-width="0.8" stroke-linejoin="round"/>
<path d="M462.94 346.14L452.43 340.36M452.43 340.36L433.57 326.23" fill="none" stroke="#101820" stroke-opacity="0.9" stroke-width="0.55" stroke-linecap="round"/>
<polygon points="433.57,326.23 444.1,338.73 462.94,346.14" fill="#ffec7d" stroke="#ffec7d" stroke-width="0.8" stroke-linejoin="round"/>
<path d="M433.57 326.23L444.1 338.73M444.1 338.73L462.94 346.14" fill="none" stroke="#101820" stroke-opacity="0.9" stroke-width="0.55" stroke-linecap="round"/>
<polygon points="414.71,314.61 425.25,322.77 433.57,326.23" fill="#ffec7d" stroke="#ffec7d" stroke-width="0.8" stroke-linejoin="round"/>
<path d="M414.71 314.61L425.25 322.77M433.57 326.23L414.71 314.61" fill="none" stroke="#101820" stroke-opacity="0.9" stroke-width="0.55" stroke-linecap="round"/>
<polygon points="425.25,322.77 444.1,338.73 433.57,326.23" fill="#ffec7d" stroke="#ffec7d" stroke-width="0.8" stroke-linejoin="round"/>
<path d="M425.25 322.77L444.1 338.73M444.1 338.73L433.57 326.23" fill="none" stroke="#101820" stroke-opacity="0.9" stroke-width="0.55" stroke-linecap="round"/>
<polygon points="414.09,311.6 414.71,314.61 411.35,311.53" fill="#b5943f" stroke="#b5943f" stroke-width="0.8" stroke-linejoin="round"/>
<polygon points="395.86,297.36 403.16,281.27 407.89,281.38 414.09,311.6 411.35,311.53" fill="#798ea6" stroke="#798ea6" stroke-width="0.8" stroke-linejoin="round"/>
<polygon points="403.16,281.27 406.41,274.09 407.89,281.38" fill="#708aac" stroke="#708aac" stroke-width="0.8" stroke-linejoin="round"/>
<path d="M411.35 311.53L414.09 311.6M403.16 281.27L407.89 281.38M414.09 311.6L411.35 311.53M407.89 281.38L403.16 281.27M395.86 297.36L406.41 274.09M414.71 314.61L395.86 297.36" fill="none" stroke="#101820" stroke-opacity="0.9" stroke-width="0.55" stroke-linecap="round"/>
<polygon points="422.63,316.01 425.25,322.77 414.71,314.61 414.09,311.6" fill="#ffec7d" stroke="#ffec7d" stroke-width="0.8" stroke-linejoin="round"/>
<polygon points="409.55,282.2 422.63,316.01 414.09,311.6 407.89,281.38" fill="#d2e8fd" stroke="#d2e8fd" stroke-width="0.8" stroke-linejoin="round"/>
<polygon points="406.41,274.09 409.55,282.2 407.89,281.38" fill="#b0d5fa" stroke="#b0d5fa" stroke-width="0.8" stroke-linejoin="round"/>
<path d="M414.09 311.6L422.63 316.01M422.63 316.01L414.09 311.6M407.89 281.38L409.55 282.2M409.55 282.2L407.89 281.38M406.41 274.09L425.25 322.77M425.25 322.77L414.71 314.61" fill="none" stroke="#101820" stroke-opacity="0.9" stroke-width="0.55" stroke-linecap="round"/>
<polygon points="377,314.15 387.56,315.07 395.86,297.36" fill="#8297b0" stroke="#8297b0" stroke-width="0.8" stroke-linejoin="round"/>
<path d="M377 314.15L387.56 315.07M395.86 297.36L377 314.15" fill="none" stroke="#101820" stroke-opacity="0.9" stroke-width="0.55" stroke-linecap="round"/>
<polygon points="387.56,315.07 402.22,283.2 403.16,281.27 395.86,297.36" fill="#52647c" stroke="#52647c" stroke-width="0.8" stroke-linejoin="round"/>
<polygon points="402.22,283.2 406.41,274.09 403.16,281.27" fill="#566a88" stroke="#566a88" stroke-width="0.8" stroke-linejoin="round"/>
<path d="M402.22 283.2L403.16 281.27M403.16 281.27L402.22 283.2M387.56 315.07L406.41 274.09M406.41 274.09L395.86 297.36" fill="none" stroke="#101820" stroke-opacity="0.9" stroke-width="0.55" stroke-linecap="round"/>
<polygon points="358.14,354.26 383.5,320.5 375.93,316.42" fill="#9b7c32" stroke="#9b7c32" stroke-width="0.8" stroke-linejoin="round"/>
<polygon points="383.5,320.5 387.56,315.07 377,314.15 375.93,316.42" fill="#60738b" stroke="#60738b" stroke-width="0.8" stroke-linejoin="round"/>
<path d="M383.5 320.5L375.93 316.42M375.93 316.42L383.5 320.5M387.56 315.07L377 314.15M377 314.15L358.14 354.26" fill="none" stroke="#101820" stroke-opacity="0.9" stroke-width="0.55" stroke-linecap="round"/>
<polygon points="358.14,354.26 368.71,358.89 384.96,321.11 383.5,320.5" fill="#9f7f34" stroke="#9f7f34" stroke-width="0.8" stroke-linejoin="round"/>
<polygon points="384.96,321.11 387.56,315.07 383.5,320.5" fill="#64778f" stroke="#64778f" stroke-width="0.8" stroke-linejoin="round"/>
<path d="M384.96 321.11L383.5 320.5M383.5 320.5L384.96 321.11M358.14 354.26L368.71 358.89M368.71 358.89L387.56 315.07" fill="none" stroke="#101820" stroke-opacity="0.9" stroke-width="0.55" stroke-linecap="round"/>
<polygon points="444.1,338.73 473.46,348.72 462.94,346.14" fill="#f8db6d" stroke="#f8db6d" stroke-width="0.8" stroke-linejoin="round"/>
<path d="M473.46 348.72L462.94 346.14M462.94 346.14L444.1 338.73" fill="none" stroke="#101820" stroke-opacity="0.9" stroke-width="0.55" stroke-linecap="round"/>
<polygon points="444.1,338.73 454.62,347.69 473.46,348.72" fill="#ffec7d" stroke="#ffec7d" stroke-width="0.8" stroke-linejoin="round"/>
<path d="M444.1 338.73L454.62 347.69M454.62 347.69L473.46 348.72" fill="none" stroke="#101820" stroke-opacity="0.9" stroke-width="0.55" stroke-linecap="round"/>
<polygon points="425.25,322.77 454.62,347.69 444.1,338.73" fill="#ffec7d" stroke="#ffec7d" stroke-width="0.8" stroke-linejoin="round"/>
<path d="M454.62 347.69L444.1 338.73M444.1 338.73L425.25 322.77" fill="none" stroke="#101820" stroke-opacity="0.9" stroke-width="0.55" stroke-linecap="round"/>
<polygon points="425.25,322.77 435.79,341.65 454.62,347.69" fill="#ffec7d" stroke="#ffec7d" stroke-width="0.8" stroke-linejoin="round"/>
<path d="M425.25 322.77L435.79 341.65M435.79 341.65L454.62 347.69" fill="none" stroke="#101820" stroke-opacity="0.9" stroke-width="0.55" stroke-linecap="round"/>
<polygon points="426.21,319.57 435.79,341.65 425.25,322.77 422.63,316.01" fill="#ffec7d" stroke="#ffec7d" stroke-width="0.8" stroke-linejoin="round"/>
<polygon points="410.24,282.87 426.21,319.57 422.63,316.01 409.55,282.2" fill="#d2e8fd" stroke="#d2e8fd" stroke-width="0.8" stroke-linejoin="round"/>
<polygon points="406.41,274.09 410.24,282.87 409.55,282.2" fill="#b0d5fa" stroke="#b0d5fa" stroke-width="0.8" stroke-linejoin="round"/>
<path d="M422.63 316.01L426.21 319.57M426.21 319.57L422.63 316.01M409.55 282.2L410.24 282.87M410.24 282.87L409.55 282.2M435.79 341.65L425.25 322.77M425.25 322.77L406.41 274.09" fill="none" stroke="#101820" stroke-opacity="0.9" stroke-width="0.55" stroke-linecap="round"/>
<polygon points="413.51,321.27 416.95,344.17 435.79,341.65 426.21,319.57" fill="#ffec7d" stroke="#ffec7d" stroke-width="0.8" stroke-linejoin="round"/>
<polygon points="407.78,283.21 413.51,321.27 426.21,319.57 410.24,282.87" fill="#d2e8fd" stroke="#d2e8fd" stroke-width="0.8" stroke-linejoin="round"/>
<polygon points="406.41,274.09 407.78,283.21 410.24,282.87" fill="#b0d5fa" stroke="#b0d5fa" stroke-width="0.8" stroke-linejoin="round"/>
<path d="M426.21 319.57L413.51 321.27M413.51 321.27L426.21 319.57M410.24 282.87L407.78 283.21M407.78 283.21L410.24 282.87M406.41 274.09L416.95 344.17M416.95 344.17L435.79 341.65" fill="none" stroke="#101820" stroke-opacity="0.9" stroke-width="0.55" stroke-linecap="round"/>
<polygon points="389.02,321.38 398.12,360.98 401.82,322.12" fill="#deb954" stroke="#deb954" stroke-width="0.8" stroke-linejoin="round"/>
<polygon points="387.56,315.07 389.02,321.38 401.82,322.12 405.52,283.38 402.22,283.2" fill="#a0b8d0" stroke="#a0b8d0" stroke-width="0.8" stroke-linejoin="round"/>
<polygon points="405.52,283.38 406.41,274.09 402.22,283.2" fill="#8aabcf" stroke="#8aabcf" stroke-width="0.8" stroke-linejoin="round"/>
<path d="M401.82 322.12L389.02 321.38M389.02 321.38L401.82 322.12M405.52 283.38L402.22 283.2M402.22 283.2L405.52 283.38M387.56 315.07L398.12 360.98M406.41 274.09L387.56 315.07" fill="none" stroke="#101820" stroke-opacity="0.9" stroke-width="0.55" stroke-linecap="round"/>
<polygon points="398.12,360.98 416.95,344.17 413.51,321.27 401.82,322.12" fill="#f8dc6e" stroke="#f8dc6e" stroke-width="0.8" stroke-linejoin="round"/>
<polygon points="413.51,321.27 407.78,283.21 405.52,283.38 401.82,322.12" fill="#c2daf1" stroke="#c2daf1" stroke-width="0.8" stroke-linejoin="round"/>
<polygon points="407.78,283.21 406.41,274.09 405.52,283.38" fill="#a3c8ed" stroke="#a3c8ed" stroke-width="0.8" stroke-linejoin="round"/>
<path d="M413.51 321.27L401.82 322.12M407.78 283.21L405.52 283.38M401.82 322.12L413.51 321.27M405.52 283.38L407.78 283.21M398.12 360.98L416.95 344.17M416.95 344.17L406.41 274.09" fill="none" stroke="#101820" stroke-opacity="0.9" stroke-width="0.55" stroke-linecap="round"/>
<polygon points="368.71,358.89 379.29,363.51 386.42,321.73 384.96,321.11" fill="#9f7f34" stroke="#9f7f34" stroke-width="0.8" stroke-linejoin="round"/>
<polygon points="386.42,321.73 387.56,315.07 384.96,321.11" fill="#64778f" stroke="#64778f" stroke-width="0.8" stroke-linejoin="round"/>
<path d="M386.42 321.73L384.96 321.11M384.96 321.11L386.42 321.73M368.71 358.89L379.29 363.51M387.56 315.07L368.71 358.89" fill="none" stroke="#101820" stroke-opacity="0.9" stroke-width="0.55" stroke-linecap="round"/>
<polygon points="379.29,363.51 398.12,360.98 389.02,321.38 386.42,321.73" fill="#ffec7d" stroke="#ffec7d" stroke-width="0.8" stroke-linejoin="round"/>
<polygon points="389.02,321.38 387.56,315.07 386.42,321.73" fill="#d2e8fd" stroke="#d2e8fd" stroke-width="0.8" stroke-linejoin="round"/>
<path d="M389.02 321.38L386.42 321.73M386.42 321.73L389.02 321.38M379.29 363.51L398.12 360.98M398.12 360.98L387.56 315.07" fill="none" stroke="#101820" stroke-opacity="0.9" stroke-width="0.55" stroke-linecap="round"/>
<polygon points="454.62,347.69 465.15,342.02 473.46,348.72" fill="#cdaa4c" stroke="#cdaa4c" stroke-width="0.8" stroke-linejoin="round"/>
<path d="M454.62 347.69L465.15 342.02M473.46 348.72L454.62 347.69" fill="none" stroke="#101820" stroke-opacity="0.9" stroke-width="0.55" stroke-linecap="round"/>
<polygon points="465.15,342.02 483.97,353.43 473.46,348.72" fill="#ffec7d" stroke="#ffec7d" stroke-width="0.8" stroke-linejoin="round"/>
<path d="M465.15 342.02L483.97 353.43M483.97 353.43L473.46 348.72" fill="none" stroke="#101820" stroke-opacity="0.9" stroke-width="0.55" stroke-linecap="round"/>
<polygon points="435.79,341.65 465.15,342.02 454.62,347.69" fill="#d7b350" stroke="#d7b350" stroke-width="0.8" stroke-linejoin="round"/>
<path d="M465.15 342.02L454.62 347.69M454.62 347.69L435.79 341.65" fill="none" stroke="#101820" stroke-opacity="0.9" stroke-width="0.55" stroke-linecap="round"/>
<polygon points="435.79,341.65 446.33,351.3 465.15,342.02" fill="#efc95d" stroke="#efc95d" stroke-width="0.8" stroke-linejoin="round"/>
<path d="M435.79 341.65L446.33 351.3M446.33 351.3L465.15 342.02" fill="none" stroke="#101820" stroke-opacity="0.9" stroke-width="0.55" stroke-linecap="round"/>
<polygon points="416.95,344.17 424.87,326.16 429.57,325.54 435.79,341.65" fill="#9a7b31" stroke="#9a7b31" stroke-width="0.8" stroke-linejoin="round"/>
<polygon points="424.87,326.16 427.5,320.13 429.57,325.54" fill="#5f728a" stroke="#5f728a" stroke-width="0.8" stroke-linejoin="round"/>
<path d="M424.87 326.16L429.57 325.54M429.57 325.54L424.87 326.16M416.95 344.17L427.5 320.13M435.79 341.65L416.95 344.17" fill="none" stroke="#101820" stroke-opacity="0.9" stroke-width="0.55" stroke-linecap="round"/>
<polygon points="431.51,326.77 446.33,351.3 435.79,341.65 429.57,325.54" fill="#ffec7d" stroke="#ffec7d" stroke-width="0.8" stroke-linejoin="round"/>
<polygon points="427.5,320.13 431.51,326.77 429.57,325.54" fill="#d2e8fd" stroke="#d2e8fd" stroke-width="0.8" stroke-linejoin="round"/>
<path d="M429.57 325.54L431.51 326.77M431.51 326.77L429.57 325.54M427.5 320.13L446.33 351.3M446.33 351.3L435.79 341.65" fill="none" stroke="#101820" stroke-opacity="0.9" stroke-width="0.55" stroke-linecap="round"/>
<polygon points="398.12,360.98 422.61,326.94 424.87,326.16 416.95,344.17" fill="#8c6e2a" stroke="#8c6e2a" stroke-width="0.8" stroke-linejoin="round"/>
<polygon points="422.61,326.94 427.5,320.13 424.87,326.16" fill="#52647c" stroke="#52647c" stroke-width="0.8" stroke-linejoin="round"/>
<path d="M422.61 326.94L424.87 326.16M424.87 326.16L422.61 326.94M427.5 320.13L416.95 344.17M416.95 344.17L398.12 360.98" fill="none" stroke="#101820" stroke-opacity="0.9" stroke-width="0.55" stroke-linecap="round"/>
<polygon points="398.12,360.98 408.68,365.63 424.37,327.7 422.61,326.94" fill="#9e7e33" stroke="#9e7e33" stroke-width="0.8" stroke-linejoin="round"/>
<polygon points="424.37,327.7 427.5,320.13 422.61,326.94" fill="#63768e" stroke="#63768e" stroke-width="0.8" stroke-linejoin="round"/>
<path d="M424.37 327.7L422.61 326.94M422.61 326.94L424.37 327.7M398.12 360.98L408.68 365.63M408.68 365.63L427.5 320.13" fill="none" stroke="#101820" stroke-opacity="0.9" stroke-width="0.55" stroke-linecap="round"/>
<polygon points="379.29,363.51 408.68,365.63 398.12,360.98" fill="#f1cb5e" stroke="#f1cb5e" stroke-width="0.8" stroke-linejoin="round"/>
<path d="M408.68 365.63L398.12 360.98M398.12 360.98L379.29 363.51" fill="none" stroke="#101820" stroke-opacity="0.9" stroke-width="0.55" stroke-linecap="round"/>
<polygon points="379.29,363.51 389.86,368.14 408.68,365.63" fill="#f1cb5e" stroke="#f1cb5e" stroke-width="0.8" stroke-linejoin="round"/>
<path d="M379.29 363.51L389.86 368.14M389.86 368.14L408.68 365.63" fill="none" stroke="#101820" stroke-opacity="0.9" stroke-width="0.55" stroke-linecap="round"/>
<polygon points="465.15,342.02 494.49,342.46 483.97,353.43" fill="#cca94b" stroke="#cca94b" stroke-width="0.8" stroke-linejoin="round"/>
<path d="M494.49 342.46L483.97 353.43M483.97 353.43L465.15 342.02" fill="none" stroke="#101820" stroke-opacity="0.9" stroke-width="0.55" stroke-linecap="round"/>
<polygon points="465.15,342.02 475.67,362.78 494.49,342.46" fill="#e8c259" stroke="#e8c259" stroke-width="0.8" stroke-linejoin="round"/>
<path d="M465.15 342.02L475.67 362.78M475.67 362.78L494.49 342.46" fill="none" stroke="#101820" stroke-opacity="0.9" stroke-width="0.55" stroke-linecap="round"/>
<polygon points="446.33,351.3 456.86,365.28 465.15,342.02" fill="#f6d86a" stroke="#f6d86a" stroke-width="0.8" stroke-linejoin="round"/>
<path d="M446.33 351.3L456.86 365.28M465.15 342.02L446.33 351.3" fill="none" stroke="#101820" stroke-opacity="0.9" stroke-width="0.55" stroke-linecap="round"/>
<polygon points="456.86,365.28 475.67,362.78 465.15,342.02" fill="#ffec7d" stroke="#ffec7d" stroke-width="0.8" stroke-linejoin="round"/>
<path d="M456.86 365.28L475.67 362.78M475.67 362.78L465.15 342.02" fill="none" stroke="#101820" stroke-opacity="0.9" stroke-width="0.55" stroke-linecap="round"/>
<polygon points="432.4,327.64 456.86,365.28 446.33,351.3 431.51,326.77" fill="#ffec7d" stroke="#ffec7d" stroke-width="0.8" stroke-linejoin="round"/>
<polygon points="427.5,320.13 432.4,327.64 431.51,326.77" fill="#d2e8fd" stroke="#d2e8fd" stroke-width="0.8" stroke-linejoin="round"/>
<path d="M431.51 326.77L432.4 327.64M432.4 327.64L431.51 326.77M456.86 365.28L446.33 351.3M446.33 351.3L427.5 320.13" fill="none" stroke="#101820" stroke-opacity="0.9" stroke-width="0.55" stroke-linecap="round"/>
<polygon points="429.26,328.05 438.05,367.78 456.86,365.28 432.4,327.64" fill="#ffec7d" stroke="#ffec7d" stroke-width="0.8" stroke-linejoin="round"/>
<polygon points="427.5,320.13 429.26,328.05 432.4,327.64" fill="#d2e8fd" stroke="#d2e8fd" stroke-width="0.8" stroke-linejoin="round"/>
<path d="M432.4 327.64L429.26 328.05M429.26 328.05L432.4 327.64M427.5 320.13L438.05 367.78M438.05 367.78L456.86 365.28" fill="none" stroke="#101820" stroke-opacity="0.9" stroke-width="0.55" stroke-linecap="round"/>
<polygon points="408.68,365.63 419.24,370.27 426.12,328.46 424.37,327.7" fill="#9e7e33" stroke="#9e7e33" stroke-width="0.8" stroke-linejoin="round"/>
<polygon points="426.12,328.46 427.5,320.13 424.37,327.7" fill="#63768e" stroke="#63768e" stroke-width="0.8" stroke-linejoin="round"/>
<path d="M426.12 328.46L424.37 327.7M424.37 327.7L426.12 328.46M408.68 365.63L419.24 370.27M427.5 320.13L408.68 365.63" fill="none" stroke="#101820" stroke-opacity="0.9" stroke-width="0.55" stroke-linecap="round"/>
<polygon points="419.24,370.27 438.05,367.78 429.26,328.05 426.12,328.46" fill="#ffec7d" stroke="#ffec7d" stroke-width="0.8" stroke-linejoin="round"/>
<polygon points="429.26,328.05 427.5,320.13 426.12,328.46" fill="#d2e8fd" stroke="#d2e8fd" stroke-width="0.8" stroke-linejoin="round"/>
<path d="M429.26 328.05L426.12 328.46M426.12 328.46L429.26 328.05M419.24 370.27L438.05 367.78M438.05 367.78L427.5 320.13" fill="none" stroke="#101820" stroke-opacity="0.9" stroke-width="0.55" stroke-linecap="round"/>
<polygon points="389.86,368.14 419.24,370.27 408.68,365.63" fill="#f1cb5e" stroke="#f1cb5e" stroke-width="0.8" stroke-linejoin="round"/>
<path d="M419.24 370.27L408.68 365.63M408.68 365.63L389.86 368.14" fill="none" stroke="#101820" stroke-opacity="0.9" stroke-width="0.55" stroke-linecap="round"/>
<polygon points="389.86,368.14 400.43,372.77 419.24,370.27" fill="#f1cb5e" stroke="#f1cb5e" stroke-width="0.8" stroke-linejoin="round"/>
<path d="M389.86 368.14L400.43 372.77M400.43 372.77L419.24 370.27" fill="none" stroke="#101820" stroke-opacity="0.9" stroke-width="0.55" stroke-linecap="round"/>
<polygon points="475.67,362.78 486.2,367.48 494.49,342.46" fill="#c2a046" stroke="#c2a046" stroke-width="0.8" stroke-linejoin="round"/>
<path d="M475.67 362.78L486.2 367.48M494.49 342.46L475.67 362.78" fill="none" stroke="#101820" stroke-opacity="0.9" stroke-width="0.55" stroke-linecap="round"/>
<polygon points="486.2,367.48 505,365 494.49,342.46" fill="#ffec7d" stroke="#ffec7d" stroke-width="0.8" stroke-linejoin="round"/>
<path d="M486.2 367.48L505 365M505 365L494.49 342.46" fill="none" stroke="#101820" stroke-opacity="0.9" stroke-width="0.55" stroke-linecap="round"/>
<polygon points="456.86,365.28 486.2,367.48 475.67,362.78" fill="#f1cb5e" stroke="#f1cb5e" stroke-width="0.8" stroke-linejoin="round"/>
<path d="M486.2 367.48L475.67 362.78M475.67 362.78L456.86 365.28" fill="none" stroke="#101820" stroke-opacity="0.9" stroke-width="0.55" stroke-linecap="round"/>
<polygon points="456.86,365.28 467.4,369.96 486.2,367.48" fill="#f1cb5e" stroke="#f1cb5e" stroke-width="0.8" stroke-linejoin="round"/>
<path d="M456.86 365.28L467.4 369.96M467.4 369.96L486.2 367.48" fill="none" stroke="#101820" stroke-opacity="0.9" stroke-width="0.55" stroke-linecap="round"/>
<polygon points="438.05,367.78 467.4,369.96 456.86,365.28" fill="#f1cb5e" stroke="#f1cb5e" stroke-width="0.8" stroke-linejoin="round"/>
<path d="M467.4 369.96L456.86 365.28M456.86 365.28L438.05 367.78" fill="none" stroke="#101820" stroke-opacity="0.9" stroke-width="0.55" stroke-linecap="round"/>
<polygon points="438.05,367.78 448.6,372.44 467.4,369.96" fill="#f1cb5e" stroke="#f1cb5e" stroke-width="0.8" stroke-linejoin="round"/>
<path d="M438.05 367.78L448.6 372.44M448.6 372.44L467.4 369.96" fill="none" stroke="#101820" stroke-opacity="0.9" stroke-width="0.55" stroke-linecap="round"/>
<polygon points="419.24,370.27 448.6,372.44 438.05,367.78" fill="#f1cb5e" stroke="#f1cb5e" stroke-width="0.8" stroke-linejoin="round"/>
<path d="M448.6 372.44L438.05 367.78M438.05 367.78L419.24 370.27" fill="none" stroke="#101820" stroke-opacity="0.9" stroke-width="0.55" stroke-linecap="round"/>
<polygon points="419.24,370.27 429.8,374.92 448.6,372.44" fill="#f1cb5e" stroke="#f1cb5e" stroke-width="0.8" stroke-linejoin="round"/>
<path d="M419.24 370.27L429.8 374.92M429.8 374.92L448.6 372.44" fill="none" stroke="#101820" stroke-opacity="0.9" stroke-width="0.55" stroke-linecap="round"/>
<polygon points="400.43,372.77 429.8,374.92 419.24,370.27" fill="#f1cb5e" stroke="#f1cb5e" stroke-width="0.8" stroke-linejoin="round"/>
<path d="M429.8 374.92L419.24 370.27M419.24 370.27L400.43 372.77" fill="none" stroke="#101820" stroke-opacity="0.9" stroke-width="0.55" stroke-linecap="round"/>
<polygon points="400.43,372.77 411,377.4 429.8,374.92" fill="#f1cb5e" stroke="#f1cb5e" stroke-width="0.8" stroke-linejoin="round"/>
<path d="M400.43 372.77L411 377.4M411 377.4L429.8 374.92" fill="none" stroke="#101820" stroke-opacity="0.9" stroke-width="0.55" stroke-linecap="round"/>
<g stroke="#000" stroke-width="0.18"><text x="330" y="348.13" font-size="8.7" text-anchor="end">0</text>
<text x="330" y="313.13" font-size="8.7" text-anchor="end">5</text>
<text x="330" y="278.13" font-size="8.7" text-anchor="end">10</text>
<text x="330" y="243.13" font-size="8.7" text-anchor="end">15</text>
<text x="310.5" y="307" font-size="8.85" text-anchor="middle" transform="rotate(-90 310.5 307)">Inhibition from expected</text>
<text x="338" y="356.5" font-size="8.7" text-anchor="end" transform="rotate(-29 338 356.5)">1000</text>
<text x="348.57" y="361.13" font-size="8.7" text-anchor="end" transform="rotate(-29 348.57 361.13)">500</text>
<text x="359.14" y="365.76" font-size="8.7" text-anchor="end" transform="rotate(-29 359.14 365.76)">250</text>
<text x="369.71" y="370.39" font-size="8.7" text-anchor="end" transform="rotate(-29 369.71 370.39)">125</text>
<text x="380.29" y="375.01" font-size="8.7" text-anchor="end" transform="rotate(-29 380.29 375.01)">62.5</text>
<text x="390.86" y="379.64" font-size="8.7" text-anchor="end" transform="rotate(-29 390.86 379.64)">31.25</text>
<text x="401.43" y="384.27" font-size="8.7" text-anchor="end" transform="rotate(-29 401.43 384.27)">15.63</text>
<text x="412" y="388.9" font-size="8.7" text-anchor="end" transform="rotate(-29 412 388.9)">0</text>
<text x="348.5" y="395" font-size="8.7" text-anchor="middle" transform="rotate(21.6 348.5 395)">Baloxavir (nM)</text>
<text x="447.6" y="383.64" font-size="8.7" text-anchor="start" transform="rotate(32 447.6 383.64)">125</text>
<text x="504" y="376.2" font-size="8.7" text-anchor="start" transform="rotate(32 504 376.2)">1000</text>
<text x="485.5" y="400.5" font-size="8.7" text-anchor="middle" transform="rotate(-11.5 485.5 400.5)">Peramivir (nM)</text>
<text x="295.4" y="227.5" font-size="11.5" text-anchor="start" stroke-width="0">D</text></g>
<path d="M337 345L411 377.4L505 365M337 345L337 347.8M347.57 349.63L347.57 352.43M358.14 354.26L358.14 357.06M368.71 358.89L368.71 361.69M379.29 363.51L379.29 366.31M389.86 368.14L389.86 370.94M400.43 372.77L400.43 375.57M411 377.4L411 380.2M429.8 374.92L429.8 377.72M448.6 372.44L448.6 375.24M467.4 369.96L467.4 372.76M486.2 367.48L486.2 370.28M505 365L505 367.8" stroke="#2a2a2a" stroke-width="0.65" fill="none"/>
<rect x="513" y="281" width="30" height="44" fill="#fff" stroke="#1b3a57" stroke-width="1"/>
<rect x="515.3" y="287.9" width="3" height="3" fill="#3f8fe0" stroke="#16324f" stroke-width="0.9"/>
<text x="520.3" y="291.74" font-size="6.5" text-anchor="start" fill="#14233f">10–15</text>
<rect x="515.3" y="302.2" width="3" height="3" fill="#7fc0f5" stroke="#16324f" stroke-width="0.9"/>
<text x="521.7" y="306.04" font-size="6.5" text-anchor="start" fill="#14233f">5–10</text>
<rect x="515.3" y="316.5" width="3" height="3" fill="#f7ea6a" stroke="#16324f" stroke-width="0.9"/>
<text x="521.2" y="320.34" font-size="6.5" text-anchor="start" fill="#14233f">0–5</text>
</g>
</svg>
</body></html>
